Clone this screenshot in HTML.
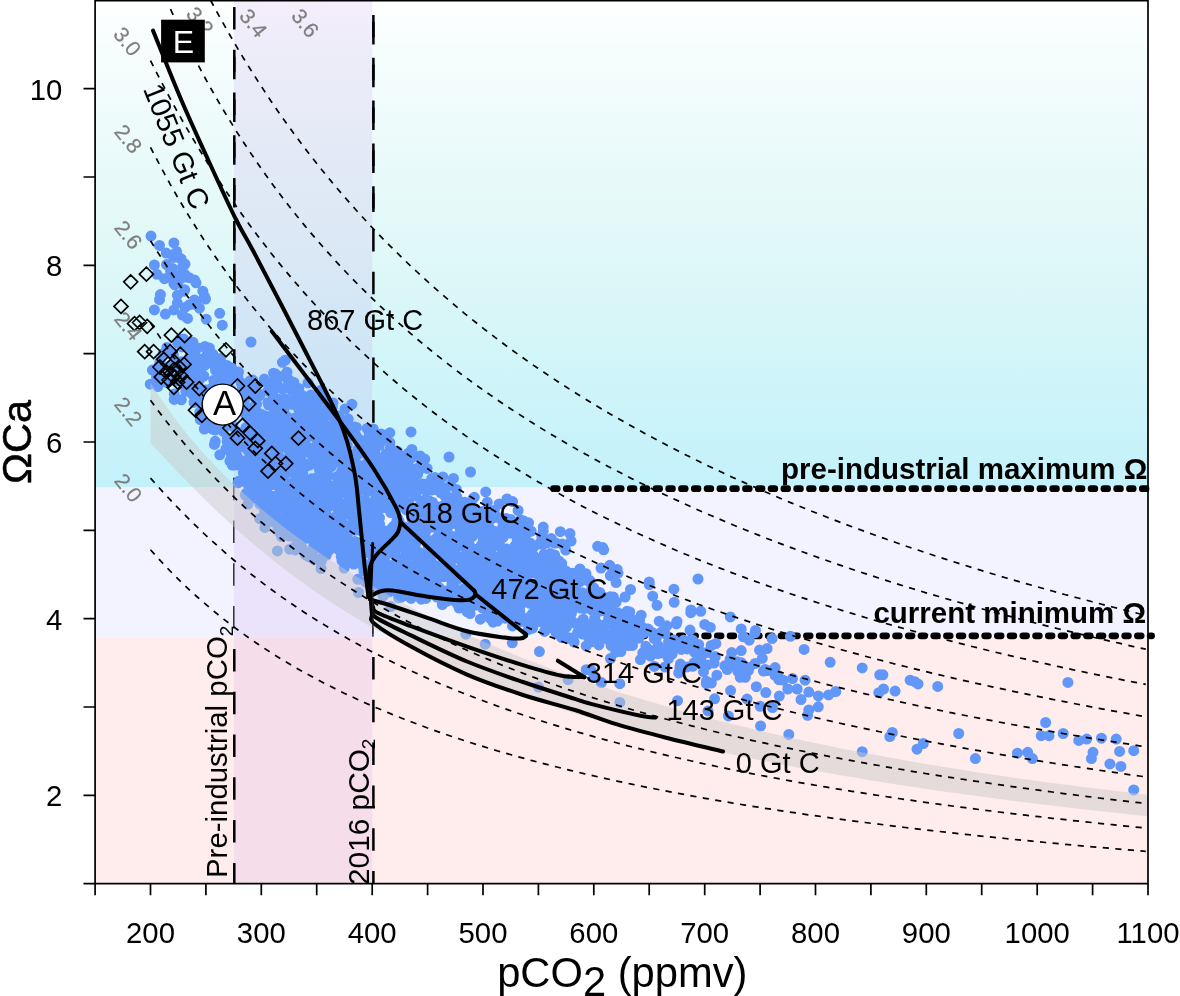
<!DOCTYPE html>
<html lang="en"><head><meta charset="utf-8"><title>ΩCa vs pCO2</title><style>html,body{margin:0;padding:0;background:#fff}svg{display:block}</style></head><body>
<svg width="1180" height="996" viewBox="0 0 1180 996" font-family="'Liberation Sans', Arial, Helvetica, sans-serif">
<defs><linearGradient id="g" x1="0" y1="0" x2="0" y2="1"><stop offset="0" stop-color="#ffffff"/><stop offset="0.1" stop-color="#f7fdfd"/><stop offset="0.25" stop-color="#eefbfb"/><stop offset="0.5" stop-color="#e1f8f8"/><stop offset="0.75" stop-color="#d1f5f9"/><stop offset="1" stop-color="#c3f1fb"/></linearGradient><clipPath id="c"><rect x="95.1" y="0" width="1052.9" height="883.7"/></clipPath></defs>
<rect width="1180" height="996" fill="#fff"/>
<rect x="95.1" y="0" width="1052.9" height="487.5" fill="url(#g)"/>
<rect x="95.1" y="487.5" width="1052.9" height="150.0" fill="#f3f3ff"/>
<rect x="95.1" y="637.5" width="1052.9" height="246.20000000000005" fill="#ffecec"/>
<rect x="234" y="0" width="138.2" height="883.7" fill="#bc8fe5" fill-opacity="0.15"/>
<g stroke="#000" stroke-width="6.8" stroke-linecap="round" stroke-dasharray="3.7 9.1" fill="none">
<path d="M553.5 488.7H1146.5"/><path d="M615.5 635.8H1151.6" stroke-dasharray="3.7 9.03"/></g>
<clipPath id="co"><rect x="0" y="0" width="1180" height="487.5"/><rect x="0" y="637.5" width="1180" height="246.20000000000005"/></clipPath><clipPath id="ci"><rect x="0" y="487.5" width="1180" height="150.0"/></clipPath>
<g stroke="#000" stroke-width="2.5" fill="none" clip-path="url(#co)"><path d="M234.3 6.9V884" stroke-dasharray="22.5 20.3"/><path d="M234.3 56.7V440" stroke-dasharray="22.5 20.3"/><path d="M373.4 15V884" stroke-dasharray="22.5 20.3"/><path d="M373.4 22V212" stroke-dasharray="22.5 20.3"/></g>
<g stroke="#222" stroke-width="1.4" fill="none" clip-path="url(#ci)" transform="translate(-0.5 0)"><path d="M234.3 6.9V884" stroke-dasharray="22.5 20.3"/><path d="M234.3 56.7V440" stroke-dasharray="22.5 20.3"/><path d="M373.4 15V884" stroke-dasharray="22.5 20.3"/><path d="M373.4 22V212" stroke-dasharray="22.5 20.3"/></g>
<path d="M446.4 535.4h.01M629.8 612h.01M526.5 563.2h.01M288 467.6h.01M314.4 559.9h.01M602.2 635.3h.01M557.8 562.9h.01M540.6 587.7h.01M378.3 493.4h.01M315.5 545.5h.01M306.6 398.5h.01M298.2 467.3h.01M369.4 435.1h.01M392.9 582.6h.01M413.3 525.7h.01M537.6 559.7h.01M444.9 565h.01M284.6 375.4h.01M264 424.9h.01M440.2 527h.01M194.3 397.1h.01M397.1 495.4h.01M377.7 518.1h.01M448.4 510.2h.01M396.8 557.6h.01M295.7 448.9h.01M276.5 383.3h.01M480.6 531.7h.01M279.5 435.6h.01M340.4 514.9h.01M160 361.6h.01M261.6 439.1h.01M302.7 473.3h.01M609.5 623.4h.01M395 554.7h.01M577.4 581.3h.01M453.7 499h.01M506.7 573.5h.01M229.8 379h.01M408 568.6h.01M394.2 574.7h.01M599.9 592.6h.01M337.2 495.2h.01M210.5 427.9h.01M347.3 459.7h.01M322.8 557.5h.01M259.7 518.7h.01M554.2 598.9h.01M344.2 432.2h.01M429.5 489.1h.01M436.6 580h.01M452.8 546.7h.01M472.5 536.4h.01M260 496.9h.01M367.6 505.3h.01M292.9 536.2h.01M353 487.1h.01M232.8 410.3h.01M284.5 504.3h.01M470 555.4h.01M314.5 500.4h.01M602.8 610.4h.01M465.1 517.1h.01M702.2 664.9h.01M638.9 638.2h.01M420.4 505.5h.01M257.6 460.7h.01M276.5 417.7h.01M674.8 644.7h.01M412.8 547.7h.01M272.1 382.5h.01M613.7 633.2h.01M420.4 590.5h.01M343 560.8h.01M356.3 512.2h.01M292.9 482.7h.01M605 598.8h.01M378.2 503.6h.01M410.8 582.9h.01M322.5 546.5h.01M512.1 589.8h.01M185.6 387.5h.01M341.4 454.2h.01M190 356.2h.01M247 472.5h.01M462.8 518.4h.01M362.9 566.3h.01M400.8 500.3h.01M330.7 540h.01M429.7 501.1h.01M476.2 590.1h.01M335 444.8h.01M398.8 486.5h.01M520.1 572.2h.01M646.5 648.7h.01M260.1 394.6h.01M162.5 366.9h.01M513 595.1h.01M550.1 618.5h.01M253.7 429.7h.01M359.3 470.8h.01M553.5 620.3h.01M448 570.2h.01M537.8 565.1h.01M498.3 608.3h.01M288.4 449.7h.01M278.7 399.2h.01M337.9 417.4h.01M271.7 514.6h.01M331.4 531.7h.01M422 522.3h.01M329.2 550h.01M304.1 421.5h.01M714 663h.01M369.2 485.1h.01M399.7 564.5h.01M629 642.5h.01M507.3 616.1h.01M425.3 536.6h.01M362.3 545h.01M356.6 497.4h.01M216.4 393h.01M363.6 476.8h.01M399 521.2h.01M296.9 530.5h.01M546.9 615.8h.01M472.5 554.4h.01M493.7 607.2h.01M448.6 597.9h.01M748.4 670.5h.01M326.4 472h.01M351.4 493.3h.01M280.3 530.1h.01M204.9 403.1h.01M283.8 440.6h.01M571.8 621h.01M241.5 410.9h.01M436 514.8h.01M382.8 530.3h.01M431.7 579.6h.01M463.6 509.9h.01M316.8 477.6h.01M730.1 659.2h.01M447.9 496.8h.01M451.4 509.6h.01M273.4 462.9h.01M212.2 356.3h.01M356.5 436.3h.01M519.4 603.8h.01M553.4 565.4h.01M500.4 531.9h.01M241.9 393.6h.01M544.1 614.8h.01M400.6 535.6h.01M656.1 638.4h.01M190 356.4h.01M180.9 363.8h.01M297.5 443.4h.01M296 517.9h.01M274.7 471.4h.01M429.7 502h.01M266.4 426.1h.01M473.2 580.1h.01M318.2 426.7h.01M406.9 563.4h.01M550.8 604.4h.01M463 562.3h.01M439.4 587.8h.01M276.1 523.2h.01M422.4 574.2h.01M543.8 590.9h.01M583.3 619.2h.01M204.9 346.5h.01M328.7 549.9h.01M321 484.6h.01M241.7 393.4h.01M447.1 549.7h.01M319.4 442.4h.01M591.4 628.7h.01M250.1 380.8h.01M521.1 619.8h.01M612.1 643.3h.01M278.3 386.4h.01M422.1 538.4h.01M453.2 587.2h.01M232.5 455.2h.01M464.6 524.4h.01M449.8 538h.01M559.7 613.1h.01M545.1 608.3h.01M324.4 485.1h.01M496.3 557h.01M624.4 643.5h.01M264.5 513.9h.01M186.9 385.6h.01M459.3 539.3h.01M284.4 433.6h.01M417.7 589.3h.01M701.9 652.4h.01M344.1 470.4h.01M297.5 537.1h.01M373.9 431.9h.01M462.6 560.5h.01M344.6 504.1h.01M252.3 412.5h.01M465.2 520.6h.01M564.5 606h.01M343.2 460.9h.01M341.2 436.7h.01M407.3 567h.01M284.5 465.2h.01M295.6 396.3h.01M325.4 446.4h.01M374.2 587.7h.01M224.1 423.6h.01M424.5 522.8h.01M314.3 557.5h.01M518.9 548.2h.01M251 393.3h.01M252 411.1h.01M642.4 627.3h.01M303.3 420.9h.01M316.7 410.6h.01M566.2 582.2h.01M443.8 576.7h.01M274.6 456.5h.01M365.5 490.8h.01M613.6 636.9h.01M342.6 457.1h.01M490.4 618.5h.01M232.8 374.7h.01M499 574.5h.01M527 558.9h.01M561 577.9h.01M471.3 556.8h.01M340.8 529.4h.01M213.7 380.2h.01M398.7 488.6h.01M515.6 562.6h.01M276 450.2h.01M302.2 421.3h.01M405.9 593h.01M510.4 607.7h.01M629 622h.01M273.5 516.8h.01M542.3 584.9h.01M456.1 570.3h.01M495.7 591.3h.01M574.1 642.2h.01M527.4 546.8h.01M350.2 480.2h.01M454.4 499.6h.01M273.6 502.3h.01M516.7 558.6h.01M515.7 582.8h.01M495.9 558.6h.01M369.3 490.2h.01M343.7 537.3h.01M359.7 563.2h.01M192.4 356.1h.01M408.6 502.4h.01M347.3 445.2h.01M411 553.7h.01M496.1 606.2h.01M345 458.2h.01M564.6 602.3h.01M347.2 552.3h.01M254.2 430.6h.01M258.8 446.5h.01M491.4 590.3h.01M560.7 635.8h.01M247.2 390.6h.01M778 675.5h.01M243.8 474.2h.01M270.7 440.4h.01M422.7 510.5h.01M369.9 469.1h.01M511.5 554.3h.01M275.8 522.5h.01M285.2 404.2h.01M522.5 584.1h.01M215.8 383.9h.01M380.5 534.6h.01M191.8 362.6h.01M319.4 461.5h.01M318.9 497.4h.01M495.1 558.3h.01M373.3 559.8h.01M619.2 626h.01M295.3 549.9h.01M349.8 498.1h.01M288.6 386.1h.01M248 504.1h.01M192.2 363.2h.01M392.4 489.6h.01M247.1 483.4h.01M270.5 467.4h.01M384.8 493.7h.01M273.3 427.5h.01M469 576.1h.01M302.1 395.4h.01M402.1 470.5h.01M308.2 422.1h.01M397.6 518.1h.01M448.1 526.6h.01M406 553.9h.01M271.6 484.9h.01M253.5 427.5h.01M241.9 434.6h.01M696.7 654.6h.01M289.8 497.8h.01M745.4 677.3h.01M282 402.7h.01M393.7 578.2h.01M390 508.9h.01M320 439.6h.01M434.2 553.9h.01M291.9 404.3h.01M377.2 529.9h.01M610.1 615.1h.01M517.6 599.9h.01M563.4 634.6h.01M517.7 619.6h.01M475.1 579.4h.01M503.5 521.7h.01M315 426.8h.01M267 440.2h.01M515 546h.01M266.3 436.7h.01M432.6 573.5h.01M325.2 460.6h.01M688.7 645.5h.01M261.9 429.6h.01M396.9 520.5h.01M229.9 461h.01M737.3 661.7h.01M422.9 486.5h.01M545.2 563.4h.01M307.8 508.9h.01M543.9 606h.01M486.2 565.3h.01M455.7 541.5h.01M365 464.8h.01M357.9 476.8h.01M480.6 603.3h.01M567.9 588.5h.01M327.3 539.3h.01M468.9 576.8h.01M282.5 438.5h.01M412.5 544.3h.01M522.5 568h.01M214.4 444.4h.01M499.3 575.3h.01M724.8 665.8h.01M378.6 491.7h.01M355.6 461.7h.01M495.4 531.4h.01M400.6 475.4h.01M500.9 576.6h.01M225.9 449h.01M417.3 536.4h.01M415.3 580.1h.01M197.2 391.2h.01M372.4 515.9h.01M449.3 591.9h.01M412.1 551.7h.01M219.7 380.4h.01M431 515.9h.01M286.9 416.7h.01M277.7 485.5h.01M607.7 607h.01M278.5 508.6h.01M373 504.7h.01M511.5 610.1h.01M488.6 567.4h.01M413.3 531.4h.01M547.6 598.2h.01M377.5 574h.01M444.1 490.4h.01M556.1 632.9h.01M454.7 557.6h.01M415.4 537.4h.01M350.6 472.8h.01M344.6 471.9h.01M377.8 487h.01M392.6 540h.01M561.8 563.6h.01M344.8 528.2h.01M575.5 604.9h.01M532.6 569h.01M370.3 529.8h.01M491.5 518.2h.01M193.3 368.4h.01M348.2 512h.01M589 599.1h.01M415.2 565.1h.01M466.4 518.8h.01M473.1 511.3h.01M426.6 577.9h.01M360 507.8h.01M273.2 497.6h.01M311.7 552.4h.01M311.8 454.8h.01M363.9 570.8h.01M333.9 432.7h.01M370.3 468.1h.01M341.2 556.6h.01M425.6 489.1h.01M707.1 665.1h.01M619.6 615h.01M343.3 465.9h.01M302.5 424.2h.01M614.1 632h.01M388.6 586.1h.01M477.2 583.5h.01M219.2 426.4h.01M595.1 595.7h.01M319.1 462h.01M388.9 479.1h.01M278.6 518.8h.01M359.9 440.2h.01M562.7 620h.01M562.4 601.8h.01M380.6 532.1h.01M374.5 519h.01M341.8 434.2h.01M410 475.5h.01M279.7 466.9h.01M320.5 544.8h.01M488.2 558.9h.01M523.3 578.7h.01M208.9 400.9h.01M501.9 584.5h.01M555 605.2h.01M369.5 451.5h.01M212.6 429.1h.01M475.8 531.1h.01M295.2 465.7h.01M455.5 515.4h.01M343.1 439.5h.01M452.4 523.3h.01M299.4 501.5h.01M381.7 541.3h.01M401.1 532.6h.01M280.4 410.9h.01M310.4 530.3h.01M316.6 402.9h.01M298.7 419.3h.01M215.7 370.7h.01M360.9 445.1h.01M524.1 592.3h.01M489.7 513.1h.01M277.7 496.1h.01M253.8 435.8h.01M522 619.5h.01M386.3 554.6h.01M667.5 648.4h.01M462.1 523.6h.01M444.3 596.4h.01M521.6 603.9h.01M511.5 577.6h.01M330.6 431.6h.01M299 402.1h.01M366.6 546.5h.01M386.8 588.5h.01M256 452.2h.01M368 550.9h.01M453.7 555.3h.01M253.2 386.4h.01M254.3 438.2h.01M269.4 458.7h.01M308.3 509.4h.01M186.1 387.4h.01M273.3 396.7h.01M266 416.3h.01M380.9 543.7h.01M175.5 378.2h.01M374.5 505.2h.01M265.1 513.9h.01M303.5 483.8h.01M537.4 620.5h.01M273.4 382.9h.01M442.5 555.9h.01M354.5 427h.01M358.8 470.8h.01M554.6 611h.01M264.3 508.8h.01M668.5 641.8h.01M625.1 621.2h.01M468.3 521.2h.01M204.1 364.3h.01M465.7 575.9h.01M434.4 481.1h.01M524.4 552.3h.01M284.1 408.4h.01M616.2 647.9h.01M242.6 433.2h.01M191.7 393.5h.01M564.8 626.4h.01M439.9 554.7h.01M467 561.1h.01M473.5 586.6h.01M420.6 524.4h.01M714.7 656.8h.01M327.6 408.3h.01M396.3 479.8h.01M497.4 621.1h.01M481.6 577.5h.01M360.2 440h.01M581.1 572.8h.01M514.4 621.6h.01M327.9 485.4h.01M221.7 400.6h.01M251.5 426.7h.01M273.5 373.2h.01M315.8 404.5h.01M370.4 506.5h.01M306.6 451.9h.01M631.6 619h.01M474.5 533.6h.01M582.8 634.1h.01M353.3 561.3h.01M159.1 365.5h.01M533.8 586.6h.01M295 417.9h.01M256.3 479.2h.01M477.6 516.2h.01M283.6 435.4h.01M302.7 539.7h.01M692.8 666.3h.01M303.1 406.2h.01M486 549.8h.01M553.3 589.8h.01M244.3 402.1h.01M397.6 575.4h.01M193.9 377.9h.01M411.8 477.1h.01M577 602.7h.01M305.1 443.9h.01M519.8 598.2h.01M438.1 565.9h.01M319.1 419.1h.01M448.3 520h.01M373.2 571.2h.01M591 641.9h.01M311.8 478.8h.01M515.7 567.9h.01M451.6 535.9h.01M506 529.8h.01M343.7 433.7h.01M497.8 566.4h.01M483.9 532.9h.01M491.9 518.5h.01M281 470.7h.01M500.9 562.3h.01M306.7 401.7h.01M378.9 557.9h.01M370.6 586.3h.01M310 409.9h.01M316.4 425.3h.01M286 508.2h.01M304 532.7h.01M269.2 425h.01M213 361.1h.01M377.5 565.1h.01M284.3 446h.01M505.1 618.2h.01M304.6 527.8h.01M421.5 581.1h.01M393.8 489.1h.01M220.3 379h.01M248 478.2h.01M380.8 556.9h.01M545.9 581.3h.01M215.1 430h.01M431.8 575h.01M593.8 587.8h.01M595.6 621.7h.01M163.4 375.2h.01M399.9 502.8h.01M340.2 452.2h.01M517.1 573.2h.01M301.8 547.4h.01M551.6 570.7h.01M379 439.6h.01M372.6 435.4h.01M321.7 532.7h.01M349.1 435.5h.01M261.1 444.5h.01M224.3 389.1h.01M419.5 552.6h.01M424.7 514.2h.01M457.4 604h.01M323.1 436.6h.01M421 516h.01M512.6 565.7h.01M429.2 588h.01M544.6 631.4h.01M412 476.1h.01M278.6 426.4h.01M426.2 503.8h.01M387.4 574.4h.01M266.3 500.2h.01M443.5 505.8h.01M554.7 555.8h.01M252.9 447.8h.01M409.6 483.6h.01M502.4 584.8h.01M353.2 505.6h.01M303.6 531.5h.01M341.4 450.3h.01M408.3 459.5h.01M415.7 494.2h.01M238.6 404.4h.01M555.3 557.6h.01M235.4 445.3h.01M296.4 488.9h.01M269.4 513.4h.01M579.1 602.2h.01M648.1 628.9h.01M200.5 371.6h.01M326.3 555.1h.01M276.6 382.5h.01M379 536.7h.01M665.1 667h.01M217.3 425.4h.01M268.5 511h.01M385.9 489.3h.01M400.9 579.4h.01M508.8 551.4h.01M366.6 492h.01M255.7 409.9h.01M334.3 524h.01M767.5 670.6h.01M548.4 574.2h.01M318.4 413.4h.01M530.1 573.5h.01M599.8 611.2h.01M264.9 480.6h.01M373.6 508.8h.01M464.9 606.4h.01M394.3 575.6h.01M266.1 522.7h.01M254.8 493.4h.01M308.8 511.3h.01M285 440.5h.01M250.5 462.2h.01M377.1 545.3h.01M335.4 529.3h.01M428.1 545.9h.01M307.5 522.2h.01M192.9 342.2h.01M325.8 456.8h.01M514.2 565.9h.01M298.6 423.3h.01M353.8 564h.01M514.1 575.6h.01M354.6 475.1h.01M503.6 607h.01M297.6 394h.01M366.7 440.6h.01M435.4 568h.01M687 666.9h.01M257.8 491.9h.01M491.2 535.6h.01M381.3 558.3h.01M251.3 488.2h.01M482.5 608h.01M249.9 460.3h.01M236.4 411.1h.01M230.5 448.5h.01M326 447.6h.01M192.2 356.8h.01M660 633.1h.01M439.8 491.5h.01M419.9 584.2h.01M374.8 451.8h.01M417.8 555.8h.01M504.3 581.1h.01M473.6 577.8h.01M262.5 453.1h.01M551.7 572.2h.01M356.3 495.1h.01M531.4 556.4h.01M302.2 407.6h.01M372.5 552.7h.01M703.5 671.7h.01M341.7 504.1h.01M694.4 652.1h.01M354.3 549.7h.01M515.1 532.5h.01M379.6 565.6h.01M370.6 512.9h.01M346.7 513h.01M255.1 415.3h.01M211.7 388.6h.01M513.6 579.7h.01M418.1 470.3h.01M470.1 613.6h.01M544.3 568h.01M289.7 549.2h.01M290.9 435.9h.01M306.4 402.3h.01M315.8 449h.01M517.4 541.3h.01M342.2 446.5h.01M322.9 539h.01M451.9 503.8h.01M274.4 412.5h.01M483.2 540.7h.01M515 557.7h.01M313.1 550.7h.01M451.8 576.5h.01M193 364.2h.01M353.7 523.3h.01M424 568.4h.01M297.7 448.8h.01M332.3 407h.01M438.8 536.3h.01M429.5 593.3h.01M261.5 462.9h.01M488.2 595h.01M223.2 431.3h.01M280.1 525h.01M297.8 531.8h.01M279.4 474.7h.01M309.5 465.1h.01M436.7 571.2h.01M199.2 359.3h.01M399.7 491.7h.01M434.8 477.6h.01M486 544.9h.01M327.6 464h.01M324.7 471.4h.01M193.9 386.6h.01M280.2 476.3h.01M190.4 374.1h.01M365.6 543.4h.01M281 529.1h.01M489.2 527.5h.01M168.7 367.6h.01M294.8 515.4h.01M451.8 523.6h.01M230.8 401.5h.01M321 503.9h.01M285.9 417.4h.01M185.8 391.2h.01M248.6 451.2h.01M234.9 393.6h.01M637.3 629h.01M327.5 474h.01M326.5 449h.01M539.8 577.9h.01M410.6 553.3h.01M442.8 572.8h.01M234.9 412.5h.01M300.2 421.4h.01M426.6 529.9h.01M554.8 612.1h.01M454.2 587.3h.01M398.7 559.8h.01M175.6 381.2h.01M621.6 639.5h.01M215.3 384.6h.01M250 499.9h.01M481.1 518.2h.01M551.2 627.5h.01M533.5 555.5h.01M372.3 450.9h.01M270.7 496h.01M194 402.4h.01M581 601.9h.01M294.5 387h.01M594.6 634.7h.01M318.5 492.4h.01M393.2 470.9h.01M368.5 564.6h.01M279.1 420h.01M491.3 531.2h.01M392.1 590.5h.01M320.5 446.6h.01M307.3 488.1h.01M692.7 644.6h.01M392.7 455.3h.01M201.7 401.3h.01M424.6 571.3h.01M207.5 351.1h.01M392.7 461.4h.01M365.7 582.1h.01M248 459.7h.01M260.4 447.8h.01M355 519.7h.01M567.1 619h.01M445.7 488.8h.01M500.4 585.4h.01M423.2 580.3h.01M282.8 388.9h.01M555.3 587.8h.01M174.3 394h.01M483.9 583h.01M277.2 465.3h.01M379.6 524.2h.01M407.1 538h.01M363.2 524.3h.01M464.1 542.4h.01M407.6 573.5h.01M345 436.2h.01M392.6 527.5h.01M312.9 488.1h.01M462.3 589.9h.01M269.2 427.5h.01M642.8 652.8h.01M377.3 510.1h.01M588.4 637.3h.01M310.7 537.4h.01M544.8 609.2h.01M309.8 424.9h.01M495.2 544.4h.01M326.9 441.3h.01M435.4 539.1h.01M207.3 425.2h.01M547.8 563.5h.01M408.3 541.6h.01M344 550.9h.01M333 486.2h.01M299.5 394h.01M445.4 530.3h.01M731.7 652.6h.01M765.1 669.5h.01M619.8 644.3h.01M547.3 617.4h.01M271.1 476h.01M280.2 400.6h.01M597.6 638.6h.01M606.8 624.4h.01M444.8 536.1h.01M399.8 463.2h.01M279.4 448.3h.01M399 568.4h.01M311 395.1h.01M248.5 431.9h.01M249.6 417.1h.01M256 400.5h.01M173.4 354.9h.01M301.3 411.2h.01M252.6 495h.01M275.1 502.5h.01M426.5 554.2h.01M360.7 483.7h.01M363.3 508.2h.01M281.3 499.6h.01M466.3 595.6h.01M310.6 463.4h.01M351.7 550.5h.01M376.6 539.3h.01M639.6 620.1h.01M295.3 391.7h.01M494.5 514.6h.01M317.8 451.2h.01M349.8 562.6h.01M393.2 498.1h.01M606.1 634.2h.01M231.5 456.1h.01M253.7 391.9h.01M314.7 450.4h.01M264.5 480.3h.01M283.9 411.5h.01M226.9 407.5h.01M379.9 574.7h.01M430.7 561.9h.01M321.1 502h.01M550.4 553.6h.01M545.8 622.6h.01M417 559.3h.01M254.1 387.6h.01M408.4 465.3h.01M448.6 501.5h.01M348.2 419.1h.01M395.5 493.2h.01M242.4 386.7h.01M417.7 566.9h.01M520.9 621.4h.01M501.1 536.6h.01M495.2 542.6h.01M361.2 543.3h.01M357.8 579.3h.01M528.8 566.8h.01M453.6 518.5h.01M494.6 567.3h.01M397.7 539.7h.01M601.8 595.9h.01M378.6 491.1h.01M377.1 577.1h.01M308.8 397.4h.01M320.3 538.7h.01M482.3 577.2h.01M355.7 541.7h.01M189.8 348.6h.01M436.6 520.3h.01M219.5 418.8h.01M389.9 479.6h.01M204.1 416.5h.01M411.3 531.6h.01M274 425.9h.01M339.8 479h.01M316.1 517.9h.01M435.3 585.7h.01M558.6 577.9h.01M688.5 641h.01M325 460.8h.01M420.4 584.7h.01M341.4 521.2h.01M244.9 464.6h.01M460.1 533.2h.01M312.2 433.6h.01M528.1 623.4h.01M310.5 413h.01M224.8 426.4h.01M511.3 614.1h.01M371 509.7h.01M258.5 449.1h.01M396.5 528.2h.01M313.3 404h.01M411.5 469.4h.01M507.8 559.7h.01M430.6 520.8h.01M375.1 484.8h.01M522.7 561.3h.01M233.1 426.5h.01M425.9 598.4h.01M618.7 633.9h.01M533.9 561.9h.01M597.8 602.5h.01M209.3 351.9h.01M492.9 557.4h.01M278.2 417.9h.01M302.1 484.2h.01M323.5 496.1h.01M430.1 489.3h.01M447.7 511.3h.01M680.4 664.1h.01M172.8 353.1h.01M276.9 383h.01M337.5 541.2h.01M555.4 609.4h.01M411.8 518.8h.01M395.9 526.6h.01M517.1 540.4h.01M461.4 599.2h.01M310.7 401.8h.01M376.1 506.8h.01M433.3 515.6h.01M206.7 357.5h.01M367.5 516h.01M346.2 438.9h.01M426.1 596h.01M428.2 490.3h.01M328.5 427.4h.01M355.2 427.2h.01M440.7 492.9h.01M616.4 634.6h.01M488 589h.01M379.5 517.8h.01M553 574.2h.01M385.2 562.1h.01M308 538.2h.01M564.4 622.3h.01M313.4 526.8h.01M577.7 581.3h.01M394.7 549.3h.01M533.3 568.3h.01M214.7 395.9h.01M315.5 488h.01M249.4 443.8h.01M615.6 618.4h.01M383 469.9h.01M248 474.1h.01M390.5 532.3h.01M295.4 492.5h.01M355.1 496.9h.01M453.9 558.6h.01M543.3 622.8h.01M264.3 448.7h.01M382 550.9h.01M387.8 568.5h.01M227.2 441.4h.01M395.4 452.9h.01M654.2 638.6h.01M351.6 433.9h.01M414.3 510.7h.01M321.8 509.1h.01M673.6 648.6h.01M226 366.4h.01M281.6 536.6h.01M491 604.9h.01M311.9 528.1h.01M633.7 627.2h.01M625.3 617h.01M298.7 409.3h.01M152.4 370.1h.01M347.3 533.5h.01M519.2 589.5h.01M210.8 421.6h.01M486.1 559.4h.01M658.2 645.7h.01M741.4 662.8h.01M493.1 622.2h.01M591.6 609.8h.01M573 582.2h.01M336.1 503.9h.01M234.1 414.3h.01M499.1 599.6h.01M253.8 411.3h.01M346 481.4h.01M416 508.5h.01M399.9 580.5h.01M308.6 554.8h.01M650.6 650.3h.01M338.2 531.8h.01M248.8 417.6h.01M274.1 406h.01M620.9 651.6h.01M433.3 527h.01M470.1 595.5h.01M502.1 557.2h.01M199.4 389.2h.01M391 462.4h.01M204.6 365.4h.01M392.8 528h.01M503.8 559h.01M462.6 543.5h.01M442.2 517.8h.01M630.2 632.1h.01M404.7 504.9h.01M692.8 640.3h.01M268.6 405h.01M355.9 491.8h.01M410.4 551.2h.01M494.5 574.8h.01M331.9 545.3h.01M220.4 427.6h.01M488.6 554.4h.01M525.9 599.9h.01M270.4 501.7h.01M375.2 537.8h.01M400.3 503.4h.01M441.1 489.7h.01M478.2 557.3h.01M349.1 481.5h.01M492.6 534.8h.01M377.9 573h.01M357.1 558h.01M338.9 549.9h.01M388.4 546.1h.01M307.6 512.8h.01M293.8 460h.01M259 395.9h.01M367.6 455.8h.01M311.9 418.7h.01M569.3 637.7h.01M578.1 624.2h.01M330.6 547.2h.01M443.4 517.4h.01M336.4 493.8h.01M413.8 591.3h.01M368.9 452.2h.01M459 504.9h.01M254.5 494.6h.01M466.9 605.8h.01M539.8 597.5h.01M451.4 552.8h.01M598.9 644.9h.01M324 457.9h.01M489 531h.01M301.5 419.2h.01M394.6 492.2h.01M475.1 605.2h.01M279.7 524.7h.01M536.4 622.1h.01M466.9 598h.01M322.2 509.1h.01M463 530.9h.01M465.3 555.2h.01M423.3 591.1h.01M442.5 563.4h.01M370.2 550.4h.01M288 439.8h.01M498.3 568.7h.01M376.8 446h.01M338.3 512.1h.01M408.6 570.7h.01M445.2 569.4h.01M618.1 612.8h.01M209.2 405.3h.01M524.1 579.2h.01M300.5 509.5h.01M483.3 512.4h.01M322.5 421.1h.01M386.4 535.3h.01M403.6 595.8h.01M481.9 522.7h.01M452.7 542.3h.01M473.4 560.2h.01M346 533.1h.01M472.9 526.8h.01M331.2 414.9h.01M437.8 574.7h.01M375 454h.01M417.3 579.4h.01M390.6 547.1h.01M286.2 387.8h.01M346.6 489.5h.01M219.5 403.3h.01M462.4 508.3h.01M334.7 447.8h.01M237.5 464.8h.01M444 526.2h.01M249 449.1h.01M622.8 637.4h.01M246.8 430h.01M337.4 515.5h.01M388.9 490.9h.01M244.4 409.7h.01M321.3 413.5h.01M305.5 414.4h.01M491.7 556.8h.01M337.8 516.6h.01M536.3 570.4h.01M424.9 578.3h.01M364.7 527.7h.01M310.1 496.4h.01M558.1 612.7h.01M509.3 566.8h.01M252.4 466.2h.01M311.6 516.8h.01M556.5 603.5h.01M439.7 483.6h.01M600.3 604.2h.01M506.1 518.4h.01M456.2 496.1h.01M286.6 447.6h.01M340.7 490.3h.01M445.6 591.4h.01M672.5 645.1h.01M315.1 479.1h.01M350.2 560.7h.01M182.9 364.8h.01M483 552.2h.01M368.9 457.2h.01M541.1 609.5h.01M290.9 493.7h.01M470.7 528.5h.01M376.9 496.5h.01M275.1 373.7h.01M353.2 517.9h.01M508.5 569.4h.01M275.3 471.7h.01M376.3 536.5h.01M291.2 464.1h.01M543.1 557.8h.01M554.9 555.9h.01M571.5 610.2h.01M457.6 558.3h.01M274.5 502.2h.01M559 584h.01M499.4 592h.01M509.6 582.8h.01M483.4 537.7h.01M564.2 626.6h.01M313.6 478.9h.01M470.4 570.3h.01M398.1 482h.01M328.4 491.7h.01M324.3 518.1h.01M262 425.7h.01M387.7 543.1h.01M340.1 456h.01M581.3 595.9h.01M475.1 585.3h.01M474.4 519.4h.01M394.3 474.9h.01M230.4 416.1h.01M349.3 494.7h.01M711.2 645.5h.01M226.6 383.2h.01M515.7 551.9h.01M594 621.5h.01M394.7 589.9h.01M541 568.8h.01M367.9 552.8h.01M334.2 537.1h.01M393.4 532.9h.01M277.4 482.6h.01M317.1 536.4h.01M316.3 524.3h.01M327.4 452h.01M289.2 529.1h.01M254.5 492.9h.01M738 671.7h.01M582.7 628.2h.01M457.4 579.5h.01M362.8 529.6h.01M278.3 461.7h.01M238.1 405h.01M236.7 447.5h.01M332.6 448.6h.01M354.8 525h.01M406 505.8h.01M495.7 589.7h.01M258 427.1h.01M413.3 552.3h.01M263.6 434h.01M196.9 365.7h.01M328.4 542.7h.01M275.5 515.4h.01M235.7 438.3h.01M460 528.4h.01M375.7 438.6h.01M492.7 542.4h.01M298.9 543h.01M529.6 565.9h.01M386.5 552.1h.01M405.7 580.5h.01M374.1 583h.01M472.2 598h.01M541.2 564.7h.01M216.7 424.3h.01M389 584.4h.01M291.1 444.1h.01M277.5 445.8h.01M295.9 454.7h.01M727.2 669.6h.01M508.4 571.2h.01M484.1 516.8h.01M320.1 449.8h.01M348.7 460.7h.01M367.7 537h.01M312 510.7h.01M360.3 514.7h.01M523.7 545.7h.01M305.9 410.2h.01M382.7 575.2h.01M472.3 510h.01M456.8 496.9h.01M497.8 576.5h.01M317.7 448.1h.01M307.8 493.7h.01M514.5 595h.01M475.9 527h.01M192.2 351.9h.01M544.8 617.8h.01M431.8 490h.01M332.5 540h.01M334.9 421.3h.01M450.5 553.2h.01M592.7 626h.01M329.5 502.2h.01M275.9 473.4h.01M254 406.7h.01M580.8 624.4h.01M446.1 591h.01M339 489.6h.01M539.7 599.6h.01M464.6 502.2h.01M215.2 441.3h.01M352.6 522.1h.01M452.6 600.2h.01M478.3 521.2h.01M372 581.2h.01M377.8 459.5h.01M493.8 539h.01M405.4 489.4h.01M223.6 386.2h.01M291.9 502.3h.01M212.9 387.1h.01M275.9 435.3h.01M279.3 431.4h.01M357.8 449.4h.01M322.3 457h.01M337.7 429.7h.01M554.6 555h.01M182 346.9h.01M548.2 558.7h.01M405 470.7h.01M367 550.2h.01M302.6 471.9h.01M408.5 491.6h.01M286.7 442.7h.01M559.8 574.5h.01M322.4 549.1h.01M185 384.9h.01M313.9 511.9h.01M462.4 594.3h.01M541.5 602.3h.01M591.1 631.6h.01M386.7 577h.01M375.7 464.7h.01M301.4 538.4h.01M383.5 566.1h.01M327.4 537.2h.01M521.3 592.9h.01M565.4 589.4h.01M255.7 467.1h.01M265.7 514.2h.01M345.8 451.3h.01M376.5 555.1h.01M740.2 677.3h.01M500.3 582.2h.01M472.9 534.7h.01M341.6 471.7h.01M157.8 386.6h.01M566.3 574.6h.01M305.7 496.2h.01M222.7 408.3h.01M320.1 537.8h.01M322.9 502.1h.01M497.3 539h.01M289.6 421h.01M628.9 645.6h.01M584.1 608.6h.01M448.3 598.7h.01M415.6 543.9h.01M287.1 421.9h.01M517.5 596h.01M396.3 499h.01M264.3 437.3h.01M284.8 423.5h.01M344.1 443.3h.01M325.8 500.7h.01M354.5 543h.01M370.8 584h.01M309.7 411.1h.01M346 527.2h.01M326.3 515.1h.01M343.2 453.6h.01M443.4 564.5h.01M390 477.5h.01M278.4 501.1h.01M539.4 566.6h.01M396.4 455.4h.01M374.6 501.1h.01M491.7 575h.01M512.5 625.9h.01M579 600.6h.01M550.6 561.3h.01M468.6 583.6h.01M495.8 620h.01M262.7 498.2h.01M484.4 547h.01M298.1 502.7h.01M299.3 459.7h.01M245.6 430.6h.01M350.9 546h.01M462.4 556.6h.01M510.2 571.3h.01M526.4 579.3h.01M249.9 394.9h.01M454.3 580h.01M570.4 619.1h.01M194.5 381.4h.01M276.9 495.5h.01M302.8 494.4h.01M376 444h.01M407.1 510.4h.01M330.7 448.8h.01M461.5 545.5h.01M403.9 493.4h.01M477.6 575.7h.01M488.4 527.8h.01M502.9 537.7h.01M496.2 562.6h.01M216.3 406.2h.01M423.6 502.1h.01M304.4 520.6h.01M365.2 541.9h.01M398.2 578h.01M295.8 426.9h.01M301.8 480.1h.01M338.1 527h.01M529.8 603.3h.01M366.5 525.2h.01M196.5 387.2h.01M372.2 543.6h.01M279.8 457.3h.01M312.1 529.8h.01M406.5 590.7h.01M336 497.2h.01M274.3 402.3h.01M359 449.2h.01M342 560.7h.01M266.9 492.8h.01M464.8 521.2h.01M530.5 587.9h.01M516.9 565.7h.01M471.8 600h.01M178.1 377.7h.01M289.5 536.1h.01M397 534.4h.01M486.2 584.8h.01M346.9 486.1h.01M371.1 474.6h.01M572.3 584.6h.01M184.1 378.3h.01M303.1 476h.01M310.7 535.7h.01M288.8 419.6h.01M202.5 399.8h.01M358.4 511.1h.01M458.6 536.7h.01M261.1 459.1h.01M571.5 613.3h.01M278 527.8h.01M487 547.8h.01M264.7 419h.01M611.1 645.7h.01M279.7 376.4h.01M501.2 547.5h.01M298.3 540.5h.01M230.6 441.9h.01M427.8 578.7h.01M382.8 462h.01M530.1 572.6h.01M376.4 476.4h.01M386 453.8h.01M373.1 566.8h.01M354.3 561.6h.01M264.3 422.2h.01M312.7 457.3h.01M301.8 440.3h.01M531.1 594.7h.01M242.4 383.5h.01M281.2 440.8h.01M401.9 594.1h.01M319 540.9h.01M293.1 490.6h.01M341.9 522.4h.01M391.9 565.4h.01M582.1 592.7h.01M363.6 530.8h.01M372 516.2h.01M358.1 454h.01M292.7 524.3h.01M281 486.2h.01M465 539h.01M429.3 581.5h.01M306.7 501h.01M355.7 462.3h.01M432.4 543.7h.01M229.6 451.1h.01M236.3 457.7h.01M349.8 426.1h.01M615.5 636.1h.01M562.4 573.8h.01M290.7 501.5h.01M372 475.1h.01M213 354.3h.01M167 382.5h.01M323.7 519.1h.01M280.4 435.8h.01M390.7 512.6h.01M478.3 596h.01M340.6 455.9h.01M572.9 573.3h.01M540.5 601.5h.01M324.1 434.3h.01M577.5 633h.01M443.8 540.5h.01M333.6 523.1h.01M698.7 644.6h.01M331.9 538.6h.01M596.3 596.5h.01M466.4 525.4h.01M290.3 519.4h.01M419.1 570.8h.01M317.4 487h.01M330 413.2h.01M277.9 402.5h.01M199.8 379.3h.01M330.1 529.1h.01M285.6 474h.01M374.5 492.5h.01M749.3 667.5h.01M312.6 549.4h.01M557.7 616.6h.01M256.6 468.1h.01M430.6 555.2h.01M414.2 518.3h.01M481.4 545.2h.01M316.9 430.1h.01M346 556.5h.01M293.3 530.3h.01M311.4 515.5h.01M270.2 477.1h.01M639.6 632.7h.01M617.7 639.4h.01M336.7 476.8h.01M481.2 517.9h.01M387.2 463.3h.01M307.4 553.6h.01M332.8 518.1h.01M329.7 429h.01M424.4 569.6h.01M313.5 417.7h.01M549 605h.01M242.4 411.2h.01M502.2 554.6h.01M547.4 579.3h.01M569.7 621.4h.01M490.5 542h.01M306.6 427.2h.01M399.9 545.6h.01M284.2 413.7h.01M367.1 511.4h.01M495 515.1h.01M177.6 380.3h.01M295.6 486.4h.01M311.5 422.1h.01M503.9 526.4h.01M326.5 481.2h.01M376.3 522.2h.01M567.6 638.4h.01M335.7 436.6h.01M546.4 575.7h.01M378.6 461h.01M629 621.5h.01M346.1 463.6h.01M511.3 578.8h.01M453.7 594.3h.01M325.9 469.8h.01M404.1 477.4h.01M437.1 540h.01M406.2 509.8h.01M240.6 460.9h.01M195.6 372.3h.01M701.1 657h.01M404 586.1h.01M248.4 434.9h.01M557.3 597.3h.01M364.8 500.5h.01M491.6 599.1h.01M562.1 597.2h.01M406.7 557.7h.01M558.6 618.7h.01M481.6 545h.01M303.6 434.6h.01M532.6 628.2h.01M601.8 606.8h.01M334.8 439.1h.01M356 527.7h.01M326.9 444.4h.01M163.4 353.5h.01M290.2 494.1h.01M326 544.1h.01M520.3 594.6h.01M362.4 516.8h.01M419.7 505.9h.01M308.8 533.8h.01M336.9 419.6h.01M513.2 556.1h.01M379.1 546h.01M432.6 588.7h.01M360.8 530.6h.01M414.8 553.3h.01M302.7 405.2h.01M398.8 589.2h.01M478.1 527h.01M227.1 365.6h.01M390.6 529.6h.01M294.9 514.2h.01M517.3 561.8h.01M449.1 501.4h.01M402.4 456.4h.01M507.4 549.8h.01M657.9 653.5h.01M454.5 553.7h.01M435.3 579.1h.01M347.6 464.6h.01M421.2 599.2h.01M413.9 510.3h.01M640.4 659.6h.01M562 580.6h.01M504.3 601.4h.01M668.5 658.6h.01M214.9 443h.01M522.8 532.5h.01M376.6 543h.01M512.3 610.8h.01M313 448.1h.01M378.1 499.2h.01M560.2 632.6h.01M193.9 381.4h.01M311.2 494h.01M386.5 483.8h.01M303.6 422.3h.01M559.1 561.1h.01M294.6 547.1h.01M413.4 593.1h.01M460.9 544.4h.01M609.2 619.1h.01M608.6 618.4h.01M296.6 395.9h.01M508.9 576.1h.01M451.3 509h.01M346.7 513.9h.01M526.7 549.9h.01M630.2 624.4h.01M382.8 507.8h.01M249.3 459.4h.01M266.4 496.4h.01M519.5 608.6h.01M316.4 438.6h.01M427.4 484.3h.01M389.9 485.7h.01M257.8 466h.01M513.7 585.9h.01M257.5 444.5h.01M300 536.8h.01M543.1 580.6h.01M391.8 547.4h.01M339.6 503.5h.01M369.5 443.6h.01M270.5 416.4h.01M389.5 591.9h.01M264.7 508.3h.01M344.6 542h.01M213.5 404.1h.01M379.3 445.4h.01M459.6 577.9h.01M755.1 663.5h.01M615.7 652.2h.01M450.7 566.5h.01M630.4 638.4h.01M369.2 432.8h.01M541.9 612.5h.01M308.8 416.1h.01M402 487.9h.01M763.4 671.1h.01M433.6 506.6h.01M393.8 459.6h.01M534 590h.01M318.9 421.9h.01M564.9 603h.01M292.5 506.3h.01M270.8 520.9h.01M299.1 527.8h.01M313.9 523.7h.01M422.4 562.2h.01M486.4 535.8h.01M525.3 600.8h.01M345.7 536.5h.01M286.3 488.9h.01M581.9 632.3h.01M246.6 416.8h.01M214.2 384.4h.01M290.2 454.9h.01M388.1 585.7h.01M697.6 650.5h.01M499.8 581.7h.01M417.8 468.1h.01M399.7 475h.01M481.3 582.6h.01M447.1 601.2h.01M327.8 486.9h.01M230.5 376.8h.01M279.6 529.6h.01M531 603.5h.01M451 552.9h.01M540.7 586.9h.01M200.7 390.4h.01M672.1 654.1h.01M431.6 562.5h.01M410.7 568.1h.01M555.5 595.8h.01M446.5 519.2h.01M471.5 590.2h.01M262.9 489.9h.01M436.3 567.8h.01M335.4 451.5h.01M252 471.6h.01M383 576.1h.01M300.9 417.2h.01M246.7 414.9h.01M174.1 361.5h.01M319.1 420h.01M282.8 529.4h.01M282.4 388.9h.01M353 432.3h.01M535.7 610.3h.01M196.8 381.2h.01M569.6 608.7h.01M415.7 555.7h.01M336.7 444.4h.01M273 447.4h.01M323 514.6h.01M581.3 621.8h.01M533.1 584.4h.01M467.8 563.5h.01M217 395.8h.01M503.1 520.2h.01M470.8 519.8h.01M319.3 469h.01M589.9 639.8h.01M282.8 442.9h.01M362.4 487.3h.01M242.9 405.3h.01M456.7 522.8h.01M227.3 422.2h.01M271.7 503.2h.01M520.8 550.8h.01M464.9 527.3h.01M502.5 520.2h.01M278.5 448.9h.01M484 538.5h.01M243.4 472.8h.01M303.5 536.7h.01M370.6 586.6h.01M242.6 461.1h.01M238 410.6h.01M460 569.1h.01M506.8 610.8h.01M340.8 533.7h.01M348.2 453.3h.01M282 400.2h.01M399.9 525.9h.01M425.1 484.3h.01M197.9 347.9h.01M645.8 646.3h.01M331.5 489h.01M498.2 590.1h.01M560.4 590.9h.01M459.4 513h.01M310.4 420.5h.01M445.3 596.5h.01M605.8 610.3h.01M238.6 481.3h.01M383.1 568.6h.01M575.7 623.7h.01M528.3 629.6h.01M509 603.1h.01M480.3 619.2h.01M248.7 447.9h.01M401.4 597.2h.01M479.2 596.9h.01M327.5 518.5h.01M392.7 460.4h.01M756.3 686.7h.01M451.6 536.8h.01M214.8 409.3h.01M246.1 390.2h.01M580.5 608h.01M567.9 590.4h.01M424.1 561.6h.01M423.2 570.7h.01M403.6 470.1h.01M503.1 525.4h.01M379 493.7h.01M464.8 507.5h.01M284.9 482.9h.01M228.1 393.2h.01M271.6 478.7h.01M586.2 645.9h.01M493.6 612.8h.01M511.3 558.4h.01M369.1 438.1h.01M377.3 457.3h.01M591.6 600.7h.01M394.8 467.9h.01M449.7 500.2h.01M342.2 526.3h.01M259.7 465h.01M447.1 550.6h.01M385.1 505.4h.01M331.3 492.6h.01M299.5 475.5h.01M482.6 565h.01M320.9 399.7h.01M423.1 563.3h.01M300 512.1h.01M513.2 563h.01M342.5 541.7h.01M382.5 551.8h.01M494.4 510.2h.01M503.8 613.7h.01M328.9 405.1h.01M572 582.1h.01M346.6 479.6h.01M778.8 679.7h.01M463.5 559.7h.01M565.2 591h.01M409.3 571.3h.01M502.1 520.8h.01M247.9 436.9h.01M779.3 696.1h.01M542.8 604.7h.01M256.3 417.1h.01M294 424.7h.01M422.7 484.1h.01M518.7 539.5h.01M728.8 666.8h.01M331.4 466.4h.01M512.8 557.6h.01M385.3 494.6h.01M337.8 454.4h.01M227.8 419.8h.01M448.5 558.1h.01M525.2 592.2h.01M644.1 632.7h.01M338.6 416h.01M690.2 645.7h.01M313.2 547.3h.01M693.9 663h.01M261.8 472.2h.01M589.5 632.7h.01M486 578.1h.01M572 587.1h.01M406.1 541.8h.01M393.8 478.8h.01M339.4 508.3h.01M593.8 624.8h.01M635 634.8h.01M264.1 464.7h.01M305.5 554.9h.01M273.3 460.9h.01M278.3 467.7h.01M422 538.4h.01M307.1 397.9h.01M293.9 382.5h.01M233.8 397.3h.01M323.5 479.8h.01M525.5 541h.01M384.1 533.9h.01M435.5 483.9h.01M312.2 481.6h.01M580.1 581.5h.01M267.9 402.4h.01M519.5 547.7h.01M371.7 474.7h.01M268.2 501.7h.01M383.4 562.4h.01M213.1 424.7h.01M634.3 635.1h.01M775.1 675.4h.01M395.7 508.2h.01M288 419.7h.01M409.2 549.6h.01M482.8 592.8h.01M384 578.2h.01M333.9 458.6h.01M295.8 506.3h.01M313.2 420.1h.01M204.3 429h.01M298.3 521.8h.01M715.9 643.6h.01M535.1 572.8h.01M353.9 483.9h.01M432 542.3h.01M286.5 515.4h.01M468.1 551.1h.01M502.9 527.5h.01M387.8 541.6h.01M594.8 617.5h.01M421.6 489.1h.01M475.5 585.3h.01M305.3 397.1h.01M456.4 558.2h.01M626.9 611.3h.01M310.3 451.3h.01M403.5 568.1h.01M240.5 397.3h.01M275.6 401.7h.01M519.5 618.7h.01M214.8 397h.01M345.4 545.2h.01M276.3 402h.01M327.9 438.5h.01M585.3 606.2h.01M486.5 611h.01M184 367.1h.01M466.4 510.5h.01M508.5 550.2h.01M510.3 533.2h.01M492.1 597.5h.01M218.6 405h.01M524.7 601.5h.01M439.8 589h.01M301 414.1h.01M510.4 606.9h.01M329.4 438.6h.01M547.9 589.2h.01M291.2 502.5h.01M327.8 520.8h.01M584.5 596.8h.01M344.4 421.6h.01M313.3 530.2h.01M502.9 568.3h.01M311.3 436.1h.01M361.3 484.6h.01M451.9 583.9h.01M201.6 416.4h.01M287.4 521.8h.01M236.9 455.9h.01M505.6 592.6h.01M286.6 490.7h.01M390.4 447.9h.01M324.9 484.7h.01M291.7 390.2h.01M394.1 480.6h.01M459.1 608h.01M487 603.2h.01M557.7 568.3h.01M301.2 449.1h.01M222.3 372.5h.01M378.1 530.9h.01M268 390.3h.01M181.1 361.7h.01M662.2 652.9h.01M447.1 565.2h.01M357.6 476h.01M253.5 412.9h.01M517.8 570.3h.01M404.6 527.1h.01M269.7 391.7h.01M561.7 637.6h.01M404 548.6h.01M314.5 495.7h.01M459.7 607.6h.01M260.2 484.3h.01M442.3 604.6h.01M492.9 596h.01M330.2 541.7h.01M483.3 543h.01M529.2 563.1h.01M568.1 596.8h.01M441.8 517.7h.01M577.1 591.9h.01M463.4 564.1h.01M673.9 639.9h.01M629.4 645h.01M199.8 412.1h.01M302.7 439.5h.01M347.8 506h.01M270.7 478.6h.01M185.4 378.1h.01M272.6 404.2h.01M517.2 617.2h.01M287.3 501h.01M299.5 467.5h.01M740.9 670.6h.01M518.6 571h.01M370.8 457.7h.01M253.4 389.9h.01M303.2 499h.01M765.8 692.6h.01M536.5 573h.01M488.3 608.3h.01M342.9 503.7h.01M495.2 591.2h.01M312.7 451.2h.01M250.6 420.1h.01M180.4 362.7h.01M312.8 502.8h.01M589 637h.01M475.9 572.5h.01M277.3 523.4h.01M334.5 547.4h.01M632.5 645.4h.01M775.1 667.6h.01M368.7 527.2h.01M683.6 640.3h.01M312.8 518h.01M460.9 576.2h.01M376 546.5h.01M306.6 448.2h.01M520.9 561.3h.01M482.6 518.6h.01M572.2 600.9h.01M261.1 414.2h.01M292 440h.01M432.4 502.2h.01M379.8 546.1h.01M279.6 532.2h.01M431.7 478.6h.01M596.6 623h.01M356.1 508.9h.01M300.9 474.7h.01M534.5 546h.01M348.7 432h.01M309.4 424.7h.01M293.2 498.6h.01M661.8 631.8h.01M339.5 435.5h.01M603.3 625.3h.01M344.9 492.7h.01M370.5 463h.01M418.9 559h.01M302.7 464.7h.01M302.4 426.7h.01M300.1 424h.01M397.4 451.2h.01M234.9 464.9h.01M529.5 616.9h.01M269.9 474.9h.01M369 446.3h.01M454.7 552.8h.01M254.3 468.6h.01M355.6 504.9h.01M417.5 529.2h.01M411.9 457.7h.01M623.9 627.2h.01M532.5 613.6h.01M246 427.6h.01M566.5 627.1h.01M411.7 574.7h.01M473.3 573.7h.01M263.9 434.3h.01M379.9 541.5h.01M484.7 560.9h.01M540.9 601.2h.01M546.7 583.7h.01M285.2 487.6h.01M566.1 571.1h.01M419.8 520.7h.01M468.4 570.7h.01M581.2 631h.01M354.2 541.5h.01M610.6 621.4h.01M548.1 560.1h.01M402.6 498h.01M269.2 521.6h.01M264.3 379.1h.01M508.4 527.1h.01M481.7 603.8h.01M194.9 352.2h.01M382.8 482.8h.01M303.3 489.9h.01M189.9 344.8h.01M530.4 547.5h.01M328.3 525.7h.01M396.6 538.6h.01M277.4 457.5h.01M437.5 594.8h.01M351 498.7h.01M547.3 597.8h.01M467.2 611.8h.01M496.1 545.3h.01M296.9 433.3h.01M609.1 617.1h.01M687.1 648.9h.01M488 554.6h.01M437 547.9h.01M359.4 558.5h.01M335.1 459.3h.01M386.9 499.7h.01M287 372.2h.01M362.7 447.6h.01M394.2 494.7h.01M349.6 514h.01M308.8 556.7h.01M450.9 568.9h.01M551 607.2h.01M466 573.3h.01M440.9 515.6h.01M298.7 388.4h.01M343 446.4h.01M575 582.2h.01M272.3 479.4h.01M170.2 365.6h.01M588.4 581.2h.01M437.8 490h.01M554.6 583.3h.01M431.5 574.3h.01M294.2 533.7h.01M369.1 439.3h.01M469.4 545.1h.01M284.7 442.3h.01M492.5 601.1h.01M490 518.3h.01M545.6 587.2h.01M361.4 485.2h.01M449.5 592.9h.01M515.1 616.4h.01M181.3 399.8h.01M241.7 410.3h.01M490.8 617.7h.01M447.9 539.1h.01M651.9 632.3h.01M210.5 359.6h.01M448.2 576.3h.01M363.4 450.2h.01M487.3 529.2h.01M294.4 472.3h.01M467.9 556.8h.01M481.7 575.3h.01M407.5 464.6h.01M300.1 538.9h.01M156.5 376.7h.01M566.9 615.3h.01M283.6 430.2h.01M219.8 454.8h.01M295.4 464.4h.01M398.9 496.6h.01M427.8 553.6h.01M584 602.7h.01M743.2 666.9h.01M371.4 484h.01M256 427.3h.01M289.2 496.5h.01M444.9 507h.01M301.6 461.1h.01M554.6 576.7h.01M286.1 441.8h.01M443.6 600h.01M449.2 555.3h.01M319.7 414.5h.01M270.5 457.5h.01M519.8 611.9h.01M502.8 580.1h.01M415.9 539.3h.01M271.3 429.2h.01M438.8 534.9h.01M309.8 431.7h.01M396.3 562.4h.01M375 567.5h.01M417.6 474.3h.01M664.8 633.5h.01M549.9 581h.01M357.9 554.6h.01M554.9 616.6h.01M525.5 550.4h.01M412.4 479.9h.01M387.9 586h.01M238 482.8h.01M304.3 486.8h.01M462.7 563.6h.01M344.1 568h.01M352.9 563.7h.01M276.4 424.1h.01M231 389.9h.01M203.8 376h.01M470.4 506.6h.01M323.2 433.3h.01M374 571.8h.01M447.2 544h.01M550.2 580.8h.01M518.4 594.1h.01M716.9 675.2h.01M215.3 367.8h.01M346 453.5h.01M377 465.7h.01M706.9 652.5h.01M211.2 398.9h.01M356.4 427.4h.01M286 423.5h.01M742.3 664.4h.01M350.7 427.1h.01M295.6 531.7h.01M290.9 472h.01M398.6 506.6h.01M377.9 472.8h.01M205 357.6h.01M200.3 419.7h.01M260.9 479.3h.01M436.9 597.1h.01M530.1 543.1h.01M383 472.1h.01M440.8 538.3h.01M455.1 499.7h.01M295.2 400.7h.01M325.7 415.8h.01M388 504.7h.01M287.1 459.1h.01M285.4 399h.01M322.3 456.2h.01M367.2 428.5h.01M370.2 538.8h.01M411.1 598.4h.01M380.8 537.1h.01M192.1 360.9h.01M302.5 515.2h.01M502.6 592.1h.01M381.7 470.2h.01M488.4 594.5h.01M326.4 541.2h.01M340.6 539.2h.01M397.9 566.5h.01M647.2 628.9h.01M324.8 543.3h.01M226.6 391.2h.01M196.2 397.1h.01M610.9 607.2h.01M319.4 547h.01M245.3 495h.01M432.5 522.5h.01M575.6 587.4h.01M434 511.8h.01M260.4 445.2h.01M354.3 472.5h.01M302.3 440.4h.01M177.1 365.8h.01M737.7 668.6h.01M374.9 473.9h.01M252.7 380.1h.01M614.7 635h.01M554 592.2h.01M297.8 440.7h.01M275.8 385.7h.01M401.3 536.5h.01M426.6 566.9h.01M607.4 600.4h.01M740.5 664.2h.01M329.9 411.7h.01M427.5 485.1h.01M247.5 449.9h.01M398.8 527.4h.01M217.7 371.8h.01M246.5 493h.01M314.9 546.8h.01M317.9 526.4h.01M487.4 608.5h.01M220.8 360.6h.01M240.8 446.7h.01M462.1 576.9h.01M470.6 524.5h.01M490.2 560.2h.01M495.3 593.6h.01M465.5 604.4h.01M412.9 549.5h.01M506.5 523.3h.01M224.1 387.1h.01M283.4 480h.01M506.6 549.1h.01M276.6 387.2h.01M403.7 479.7h.01M364.1 547.6h.01M567.2 619.9h.01M464.3 520.5h.01M369.5 456.4h.01M304.8 444.3h.01M546.2 603.8h.01M462.4 594.6h.01M367.5 454.4h.01M597.8 631.8h.01M466.2 568.4h.01M412 583.7h.01M490 585.5h.01M573.6 603h.01M229.2 400.4h.01M380.8 585.3h.01M436.9 545.9h.01M535.3 615.3h.01M492.9 577.5h.01M341.3 438.8h.01M378.8 478.9h.01M650.5 656.1h.01M356.5 496.1h.01M567.4 604h.01M360.3 508.7h.01M328.3 425.9h.01M306.2 466.3h.01M284 429.8h.01M364.2 470.8h.01M264.6 381.3h.01M562.7 574.8h.01M160 379.5h.01M681.4 649.4h.01M219.5 407.7h.01M315.8 399.7h.01M278.6 508.5h.01M295.3 421.8h.01M479.3 567.6h.01M419.5 469.7h.01M291.5 435.4h.01M282.2 432.1h.01M461.3 512.8h.01M448.5 536.9h.01M321 485h.01M326.9 476h.01M376.6 508.7h.01M648.4 630.3h.01M406.8 470h.01M571.7 591.6h.01M454.2 512.8h.01M417 486.7h.01M386.9 494.1h.01M474.6 549.3h.01M387.7 453.1h.01M498.3 517.5h.01M272.7 392.4h.01M322.6 544.1h.01M601.8 598.4h.01M574.1 574.8h.01M424.3 510.1h.01M515.3 586.2h.01M467 567.3h.01M311 537.2h.01M591.6 589.1h.01M384.2 485h.01M216 385.3h.01M289 380h.01M438.9 506.9h.01M553.4 578.6h.01M445.1 573.5h.01M355.7 486.7h.01M557.4 626.6h.01M528.7 626.1h.01M259.9 504.2h.01M428.3 541.9h.01M224 396.9h.01M397.1 508.3h.01M350.7 551.5h.01M354.7 530.2h.01M303.1 525.3h.01M303.8 488.7h.01M292.5 533.9h.01M413.5 553h.01M369.8 573.6h.01M491.5 553.9h.01M453.8 517.6h.01M715.3 656.6h.01M329 506.7h.01M346.2 557.9h.01M464.3 588.3h.01M350.8 526.1h.01M369.9 503.1h.01M449.4 599.7h.01M404.1 571.3h.01M231.8 418.5h.01M287.9 379.8h.01M445.4 497h.01M300.3 406h.01M258 482.6h.01M398.6 597.8h.01M368 573.9h.01M344.2 505.8h.01M522.1 576.7h.01M489.8 560.9h.01M416.9 590.1h.01M444.6 576.5h.01M425.8 589.3h.01M472.7 513.1h.01M588.5 626.9h.01M237.3 431.9h.01M372 469.5h.01M530.3 545.6h.01M312.3 549.9h.01M437.4 528.5h.01M207.9 390h.01M280.6 478.6h.01M352.2 483.7h.01M217.3 410.8h.01M361.4 561h.01M289.7 435.9h.01M590.4 639.8h.01M321.3 561.1h.01M344.7 472.8h.01M544.1 554.2h.01M416 540.2h.01M285.4 528.6h.01M439.4 521h.01M279 412.6h.01M295.9 502.9h.01M445.3 563.1h.01M388.9 553.2h.01M303.3 416h.01M415.8 496.1h.01M450.7 503.2h.01M305 482.5h.01M317.2 405.3h.01M607.7 639.4h.01M331.9 522.3h.01M277.3 463.4h.01M482.2 600.7h.01M550.6 594.8h.01M209.4 348h.01M482.6 511.6h.01M285.2 437.7h.01M311.9 492.4h.01M534.8 572.5h.01M220.2 358.6h.01M373.7 554h.01M393.4 526.3h.01M569 618.9h.01M410.3 486.3h.01M205.5 390.1h.01M363.6 445.3h.01M342.6 551.9h.01M354 489.6h.01M338.6 494.7h.01M521.5 567.3h.01M232.3 465h.01M554.7 564.9h.01M469.6 609.6h.01M365.7 522.7h.01M490.1 614.6h.01M351.2 473h.01M256.6 404.3h.01M358.6 482.3h.01M205.4 363.5h.01M227.3 438.4h.01M367.1 514.5h.01M560.5 608.1h.01M280.6 506.3h.01M391.4 575.5h.01M562.3 583.8h.01M636.1 632.8h.01M471.7 564.7h.01M429.1 510.1h.01M425.8 499.2h.01M434.8 505.6h.01M377.2 439.8h.01M337 462.1h.01M292.6 430.2h.01M340.2 419.1h.01M523 582.1h.01M412.9 590.8h.01M265.5 509.6h.01M198.6 397h.01M679.9 667.2h.01M459.8 536.5h.01M414.4 477.7h.01M321.4 389.9h.01M345 409h.01M743.3 636.8h.01M652.7 596.2h.01M285.3 360.2h.01M677 621.5h.01M411.9 449.5h.01M755 632.8h.01M385.9 438.9h.01M420.1 455.9h.01M730.3 616.9h.01M531.2 531.2h.01M676.3 623.9h.01M704.7 624.4h.01M690.9 610h.01M641.2 615.2h.01M516.6 525.1h.01M474.3 497.3h.01M233.6 371.8h.01M381.3 433.9h.01M241.1 382.7h.01M674.2 602.3h.01M649.3 584.5h.01M625.1 597h.01M518.1 510.5h.01M749.2 640.2h.01M762.3 658.3h.01M373.3 428.9h.01M649.2 581.9h.01M676.7 621.9h.01M617.2 569.4h.01M659.2 621.2h.01M543.2 527.1h.01M499.1 503.9h.01M741.2 650.6h.01M408.3 453.2h.01M603.7 549.8h.01M618 573.1h.01M453.4 478.4h.01M755.5 630.5h.01M442.8 476.9h.01M231.6 367.9h.01M657 605.3h.01M690.8 612.7h.01M238.5 372.1h.01M560.3 531.7h.01M543.2 531.2h.01M485.7 491.9h.01M427.1 468.4h.01M772.1 638.6h.01M456.4 489.4h.01M183.6 339.1h.01M741.2 628.9h.01M759.5 650.1h.01M237.8 376.3h.01M579.9 569h.01M541.7 535.8h.01M579.8 570.2h.01M666.8 625.8h.01M630.5 589.5h.01M166.9 347.4h.01M700.8 611.3h.01M520.7 521.3h.01M710.3 627.4h.01M333 403h.01M282.4 362.3h.01M177.5 342.9h.01M615.6 574.8h.01M673.9 589.2h.01M690 630.1h.01M565.7 550h.01M420.8 459.3h.01M767.1 648.6h.01M424.8 459.1h.01M473.2 498.3h.01M528.6 522.8h.01M612.5 569h.01M307.9 382.8h.01M610.1 596.7h.01M389.8 432.8h.01M326 399.6h.01M320.9 397.4h.01M571.1 541.1h.01M450.6 484.8h.01M602.7 547.6h.01M389.9 442.7h.01M487.3 502.2h.01M527.1 532.8h.01M180 339.2h.01M540.5 542.2h.01M520.7 519.9h.01M613.3 596.9h.01M523.2 520.7h.01M616.2 602.1h.01M609.7 565.3h.01M562.2 544h.01M555.7 543.1h.01M546.7 543h.01M589.9 580.6h.01M522.6 523.6h.01M542.5 544.6h.01M507 499h.01M551.3 538.6h.01M523 525.2h.01M610.3 575.6h.01M554.1 542.9h.01M521.4 520.5h.01M510.7 519.5h.01M586 573.7h.01M512.6 501.6h.01M601 568.1h.01M616.1 582.6h.01M390.8 606.6h.01M728.4 715.9h.01M512.3 642.8h.01M706.3 683.5h.01M601.4 682.6h.01M591.3 670.6h.01M586.2 669.7h.01M654.3 666.4h.01M678.7 672.9h.01M594 676.8h.01M358.5 592.5h.01M321.1 568.5h.01M277.4 550.9h.01M706.4 681.2h.01M465.8 634.2h.01M150.2 384.2h.01M539.4 651.6h.01M711.3 683.1h.01M747.1 699.1h.01M760.1 706.3h.01M714.6 698.8h.01M264.9 527.4h.01M485.2 644.2h.01M610.5 658.5h.01M568.1 679.7h.01M383.1 596.2h.01M174.2 399.4h.01M730.6 690.6h.01M151 236.1h.01M159.5 245.4h.01M173.9 242.9h.01M176.5 251.4h.01M166.3 253.1h.01M185 264.1h.01M154.4 265h.01M157 274.3h.01M170.5 270.9h.01M179 276h.01M189.2 277.7h.01M196 282.8h.01M173.9 283.6h.01M202.8 291.2h.01M184.1 291.2h.01M160.4 294.6h.01M159.5 299.7h.01M196 301.4h.01M204.5 296.3h.01M189.2 304.8h.01M177.3 303.1h.01M154.4 309.9h.01M165.4 314.1h.01M173.9 309.9h.01M182.4 315h.01M187.5 318.4h.01M199.4 308.2h.01M206.2 319.2h.01M219.7 313.3h.01M222.3 325.2h.01M194.7 280.1h.01M173.7 257.4h.01M194.5 299.9h.01M164.5 278.7h.01M177.3 295.3h.01M182.9 272.3h.01M172.5 268.5h.01M194.1 304.2h.01M185.1 307.4h.01M183.9 263.8h.01M184.8 289.8h.01M170.4 276.1h.01M205.5 299h.01M183.7 277.3h.01M166.5 264.6h.01M174.8 284.8h.01M178.4 256.9h.01M182.7 266.9h.01M175.6 255.9h.01M181.2 259h.01M185.1 274.7h.01M178 282.7h.01M790.3 636.3h.01M804.1 649.4h.01M830.2 662.3h.01M862.2 667.9h.01M879.7 674.8h.01M882.9 674.8h.01M910.1 680.2h.01M914.8 681.7h.01M918 683.9h.01M937.7 686.4h.01M883.5 689h.01M878.8 692.7h.01M895.1 691.1h.01M1067.9 682.4h.01M783.1 680.2h.01M792.5 678.6h.01M805.1 680.2h.01M787.8 689h.01M797.2 689h.01M808.8 692.1h.01M818.3 695.9h.01M828.6 694.9h.01M835.8 691.5h.01M801 699.6h.01M818.3 706.8h.01M808.8 710h.01M807.6 715.3h.01M788.8 734.4h.01M862.2 751.7h.01M892.3 732.5h.01M889.8 736.6h.01M923.3 743.5h.01M917 749.2h.01M958.7 733.5h.01M975.4 758.6h.01M1017.4 753.2h.01M1027.7 752.3h.01M1032.4 758.6h.01M1045.6 722.5h.01M1041.2 735.7h.01M1049 735.7h.01M1063.2 733.5h.01M1078.8 740.4h.01M1086.7 739.1h.01M1101.4 738.2h.01M1116.2 739.1h.01M1119.6 751.4h.01M1133.7 750.7h.01M1093 752.3h.01M1091.4 758.6h.01M1109.9 763.9h.01M1120.9 766.4h.01M1133.7 789.9h.01M251 342h.01M351.9 404.3h.01M411 431.9h.01M449 457h.01M470.5 472h.01M570 533.6h.01M597.6 546.3h.01M698 579h.01M538.4 687h.01M619.8 683.7h.01M619.8 702.4h.01M677.5 700.7h.01M708 710.9h.01M760.6 726h.01M772.5 707.5h.01" stroke="#6297fa" stroke-width="11" stroke-linecap="round" fill="none"/>
<path d="M150.5 382.4L158.9 395.7L167.3 408L175.6 419.5L184 430.3L192.4 440.6L200.8 450.3L209.2 459.5L217.6 468.3L225.9 476.8L234.3 484.8L242.7 492.6L251.1 500.1L259.5 507.3L267.9 514.3L276.2 521L284.6 527.6L293 533.9L301.4 540L309.8 546L318.1 551.8L326.5 557.5L334.9 563L343.3 568.3L351.7 573.6L360.1 578.7L368.4 583.6L376.8 588.5L385.2 593.2L393.6 597.9L402 602.4L410.4 606.8L418.7 611.2L427.1 615.4L435.5 619.6L443.9 623.6L452.3 627.6L460.6 631.5L469 635.3L477.4 639L485.8 642.7L494.2 646.3L502.6 649.8L510.9 653.2L519.3 656.6L527.7 659.9L536.1 663.1L544.5 666.3L552.9 669.5L561.2 672.5L569.6 675.5L578 678.5L586.4 681.4L594.8 684.2L603.1 687L611.5 689.7L619.9 692.4L628.3 695L636.7 697.6L645.1 700.2L653.4 702.6L661.8 705.1L670.2 707.5L678.6 709.9L687 712.2L695.4 714.5L703.7 716.7L712.1 718.9L720.5 721.1L728.9 723.2L737.3 725.3L745.6 727.3L754 729.3L762.4 731.3L770.8 733.3L779.2 735.2L787.6 737.1L795.9 738.9L804.3 740.7L812.7 742.5L821.1 744.3L829.5 746L837.9 747.7L846.2 749.4L854.6 751L863 752.6L871.4 754.2L879.8 755.8L888.1 757.3L896.5 758.8L904.9 760.3L913.3 761.8L921.7 763.2L930.1 764.7L938.4 766.1L946.8 767.4L955.2 768.8L963.6 770.1L972 771.4L980.4 772.7L988.7 774L997.1 775.2L1005.5 776.5L1013.9 777.7L1022.3 778.9L1030.6 780L1039 781.2L1047.4 782.3L1055.8 783.4L1064.2 784.6L1072.6 785.6L1080.9 786.7L1089.3 787.8L1097.7 788.8L1106.1 789.8L1114.5 790.8L1122.9 791.8L1131.2 792.8L1139.6 793.7L1148 794.7L1148 816.2L1139.6 815.4L1131.2 814.5L1122.9 813.6L1114.5 812.7L1106.1 811.8L1097.7 810.8L1089.3 809.9L1080.9 808.9L1072.6 808L1064.2 807L1055.8 806L1047.4 805L1039 804L1030.6 803L1022.3 801.9L1013.9 800.9L1005.5 799.8L997.1 798.7L988.7 797.6L980.4 796.5L972 795.3L963.6 794.2L955.2 793L946.8 791.9L938.4 790.7L930.1 789.4L921.7 788.2L913.3 786.9L904.9 785.7L896.5 784.4L888.1 783.1L879.8 781.7L871.4 780.4L863 779L854.6 777.6L846.2 776.2L837.9 774.8L829.5 773.3L821.1 771.8L812.7 770.3L804.3 768.7L795.9 767.2L787.6 765.6L779.2 764L770.8 762.3L762.4 760.6L754 758.9L745.6 757.2L737.3 755.4L728.9 753.6L720.5 751.8L712.1 749.9L703.7 748L695.4 746.1L687 744.1L678.6 742.1L670.2 740L661.8 737.9L653.4 735.8L645.1 733.6L636.7 731.4L628.3 729.1L619.9 726.8L611.5 724.4L603.1 722L594.8 719.5L586.4 717L578 714.4L569.6 711.8L561.2 709.1L552.9 706.3L544.5 703.5L536.1 700.6L527.7 697.7L519.3 694.6L510.9 691.6L502.6 688.4L494.2 685.1L485.8 681.8L477.4 678.4L469 674.9L460.6 671.3L452.3 667.7L443.9 663.9L435.5 660.1L427.1 656.1L418.7 652L410.4 647.8L402 643.6L393.6 639.1L385.2 634.6L376.8 630L368.4 625.2L360.1 620.3L351.7 615.2L343.3 610L334.9 604.7L326.5 599.2L318.1 593.5L309.8 587.7L301.4 581.7L293 575.6L284.6 569.2L276.2 562.7L267.9 556L259.5 549.1L251.1 542L242.7 534.7L234.3 527.3L225.9 519.6L217.6 511.7L209.2 503.7L200.8 495.4L192.4 487L184 478.5L175.6 469.8L167.3 461L158.9 452.1L150.5 443.3Z" fill="#c8c8c8" fill-opacity="0.47"/>
<path d="M123.7 281.8l7 -7l7 7l-7 7zM139.4 274.2l7 -7l7 7l-7 7zM114 306.4l7 -7l7 7l-7 7zM127.5 323.7l7 -7l7 7l-7 7zM132.6 322.5l7 -7l7 7l-7 7zM140.2 326.3l7 -7l7 7l-7 7zM164.4 335.2l7 -7l7 7l-7 7zM177.6 335.7l7 -7l7 7l-7 7zM219 349.9l7 -7l7 7l-7 7zM137.7 351.7l7 -7l7 7l-7 7zM146.6 351.7l7 -7l7 7l-7 7zM156.7 359.3l7 -7l7 7l-7 7zM163.1 351.7l7 -7l7 7l-7 7zM173.3 354.2l7 -7l7 7l-7 7zM152.9 367l7 -7l7 7l-7 7zM159.3 372l7 -7l7 7l-7 7zM166.9 369.5l7 -7l7 7l-7 7zM172 367l7 -7l7 7l-7 7zM177.1 364.4l7 -7l7 7l-7 7zM154.2 377.1l7 -7l7 7l-7 7zM166.9 377.1l7 -7l7 7l-7 7zM170.7 382.2l7 -7l7 7l-7 7zM179.6 382.2l7 -7l7 7l-7 7zM166.9 387.3l7 -7l7 7l-7 7zM192.3 388.6l7 -7l7 7l-7 7zM188.5 410.2l7 -7l7 7l-7 7zM194.9 415.3l7 -7l7 7l-7 7zM230.5 386l7 -7l7 7l-7 7zM248.3 386l7 -7l7 7l-7 7zM241.9 403.8l7 -7l7 7l-7 7zM235.6 425.4l7 -7l7 7l-7 7zM243.2 433.1l7 -7l7 7l-7 7zM250.8 440.7l7 -7l7 7l-7 7zM222.8 428l7 -7l7 7l-7 7zM230.5 438.2l7 -7l7 7l-7 7zM248.3 448.3l7 -7l7 7l-7 7zM291.5 438.2l7 -7l7 7l-7 7zM264.8 453.4l7 -7l7 7l-7 7zM278.8 463.6l7 -7l7 7l-7 7zM268.6 463.6l7 -7l7 7l-7 7zM261 471.2l7 -7l7 7l-7 7zM161 364l7 -7l7 7l-7 7zM164 374l7 -7l7 7l-7 7zM169 373l7 -7l7 7l-7 7zM162 380l7 -7l7 7l-7 7zM174 376l7 -7l7 7l-7 7z" fill="none" stroke="#000" stroke-width="1.65"/>
<g fill="none" stroke="#000" stroke-width="1.7" stroke-dasharray="6.2 6.4" clip-path="url(#c)">
<path d="M150.5 549.7L157.2 557.2L163.9 564.4L170.5 571.4L177.2 578.1L183.9 584.6L190.6 590.9L197.3 597L203.9 602.8L210.6 608.5L217.3 614L224 619.4L230.7 624.5L237.3 629.5L244 634.4L250.7 639.1L257.4 643.7L264.1 648.2L270.7 652.5L277.4 656.7L284.1 660.8L290.8 664.8L297.5 668.7L304.1 672.4L310.8 676.1L317.5 679.7L324.2 683.2L330.9 686.6L337.5 689.9L344.2 693.2L350.9 696.3L357.6 699.4L364.3 702.5L370.9 705.4L377.6 708.3L384.3 711.1L391 713.9L397.7 716.6L404.3 719.2L411 721.8L417.7 724.3L424.4 726.8L431 729.2L437.7 731.6L444.4 733.9L451.1 736.2L457.8 738.4L464.4 740.6L471.1 742.8L477.8 744.9L484.5 746.9L491.2 749L497.8 751L504.5 752.9L511.2 754.8L517.9 756.7L524.6 758.5L531.2 760.4L537.9 762.1L544.6 763.9L551.3 765.6L558 767.3L564.6 769L571.3 770.6L578 772.2L584.7 773.8L591.4 775.3L598 776.8L604.7 778.3L611.4 779.8L618.1 781.3L624.8 782.7L631.4 784.1L638.1 785.5L644.8 786.9L651.5 788.2L658.2 789.5L664.8 790.8L671.5 792.1L678.2 793.4L684.9 794.6L691.6 795.9L698.2 797.1L704.9 798.3L711.6 799.4L718.3 800.6L725 801.7L731.6 802.9L738.3 804L745 805.1L751.7 806.2L758.4 807.2L765 808.3L771.7 809.3L778.4 810.3L785.1 811.4L791.8 812.4L798.4 813.3L805.1 814.3L811.8 815.3L818.5 816.2L825.2 817.1L831.8 818.1L838.5 819L845.2 819.9L851.9 820.8L858.6 821.6L865.2 822.5L871.9 823.4L878.6 824.2L885.3 825L892 825.9L898.6 826.7L905.3 827.5L912 828.3L918.7 829.1L925.3 829.9L932 830.6L938.7 831.4L945.4 832.1L952.1 832.9L958.7 833.6L965.4 834.3L972.1 835.1L978.8 835.8L985.5 836.5L992.1 837.2L998.8 837.9L1005.5 838.5L1012.2 839.2L1018.9 839.9L1025.5 840.5L1032.2 841.2L1038.9 841.8L1045.6 842.5L1052.3 843.1L1058.9 843.7L1065.6 844.4L1072.3 845L1079 845.6L1085.7 846.2L1092.3 846.8L1099 847.4L1105.7 847.9L1112.4 848.5L1119.1 849.1L1125.7 849.6L1132.4 850.2L1139.1 850.8L1145.8 851.3"/>
<path d="M150.5 478.1L157.2 485.6L163.9 493L170.5 500.1L177.2 507.1L183.9 514L190.6 520.6L197.3 527.1L203.9 533.5L210.6 539.7L217.3 545.7L224 551.6L230.7 557.4L237.3 563L244 568.4L250.7 573.8L257.4 579L264.1 584.1L270.7 589L277.4 593.9L284.1 598.6L290.8 603.2L297.5 607.8L304.1 612.2L310.8 616.5L317.5 620.7L324.2 624.8L330.9 628.8L337.5 632.8L344.2 636.6L350.9 640.4L357.6 644.1L364.3 647.7L370.9 651.2L377.6 654.6L384.3 658L391 661.3L397.7 664.6L404.3 667.8L411 670.9L417.7 673.9L424.4 676.9L431 679.8L437.7 682.7L444.4 685.5L451.1 688.3L457.8 691L464.4 693.6L471.1 696.2L477.8 698.8L484.5 701.3L491.2 703.8L497.8 706.2L504.5 708.6L511.2 710.9L517.9 713.2L524.6 715.4L531.2 717.7L537.9 719.8L544.6 722L551.3 724.1L558 726.1L564.6 728.2L571.3 730.1L578 732.1L584.7 734L591.4 735.9L598 737.8L604.7 739.6L611.4 741.4L618.1 743.2L624.8 745L631.4 746.7L638.1 748.4L644.8 750L651.5 751.7L658.2 753.3L664.8 754.9L671.5 756.5L678.2 758L684.9 759.5L691.6 761L698.2 762.5L704.9 764L711.6 765.4L718.3 766.8L725 768.2L731.6 769.6L738.3 770.9L745 772.3L751.7 773.6L758.4 774.9L765 776.2L771.7 777.4L778.4 778.7L785.1 779.9L791.8 781.1L798.4 782.3L805.1 783.5L811.8 784.6L818.5 785.8L825.2 786.9L831.8 788.1L838.5 789.2L845.2 790.2L851.9 791.3L858.6 792.4L865.2 793.4L871.9 794.5L878.6 795.5L885.3 796.5L892 797.5L898.6 798.5L905.3 799.5L912 800.4L918.7 801.4L925.3 802.3L932 803.3L938.7 804.2L945.4 805.1L952.1 806L958.7 806.9L965.4 807.7L972.1 808.6L978.8 809.5L985.5 810.3L992.1 811.1L998.8 812L1005.5 812.8L1012.2 813.6L1018.9 814.4L1025.5 815.2L1032.2 816L1038.9 816.7L1045.6 817.5L1052.3 818.3L1058.9 819L1065.6 819.7L1072.3 820.5L1079 821.2L1085.7 821.9L1092.3 822.6L1099 823.3L1105.7 824L1112.4 824.7L1119.1 825.4L1125.7 826.1L1132.4 826.7L1139.1 827.4L1145.8 828.1"/>
<path d="M150.5 400.3L157.2 409.4L163.9 418.2L170.5 426.7L177.2 435.1L183.9 443.1L190.6 451L197.3 458.6L203.9 466L210.6 473.3L217.3 480.3L224 487.1L230.7 493.8L237.3 500.3L244 506.6L250.7 512.7L257.4 518.7L264.1 524.5L270.7 530.2L277.4 535.8L284.1 541.2L290.8 546.5L297.5 551.6L304.1 556.6L310.8 561.5L317.5 566.3L324.2 571L330.9 575.6L337.5 580.1L344.2 584.4L350.9 588.7L357.6 592.9L364.3 597L370.9 601L377.6 604.9L384.3 608.8L391 612.5L397.7 616.2L404.3 619.8L411 623.3L417.7 626.8L424.4 630.2L431 633.5L437.7 636.7L444.4 639.9L451.1 643.1L457.8 646.1L464.4 649.1L471.1 652.1L477.8 655L484.5 657.8L491.2 660.6L497.8 663.4L504.5 666.1L511.2 668.7L517.9 671.3L524.6 673.9L531.2 676.4L537.9 678.9L544.6 681.3L551.3 683.7L558 686L564.6 688.3L571.3 690.6L578 692.8L584.7 695L591.4 697.2L598 699.3L604.7 701.4L611.4 703.5L618.1 705.5L624.8 707.5L631.4 709.5L638.1 711.4L644.8 713.3L651.5 715.2L658.2 717L664.8 718.8L671.5 720.6L678.2 722.4L684.9 724.1L691.6 725.9L698.2 727.5L704.9 729.2L711.6 730.9L718.3 732.5L725 734.1L731.6 735.7L738.3 737.2L745 738.7L751.7 740.3L758.4 741.8L765 743.2L771.7 744.7L778.4 746.1L785.1 747.5L791.8 748.9L798.4 750.3L805.1 751.7L811.8 753L818.5 754.3L825.2 755.6L831.8 756.9L838.5 758.2L845.2 759.5L851.9 760.7L858.6 761.9L865.2 763.2L871.9 764.4L878.6 765.5L885.3 766.7L892 767.9L898.6 769L905.3 770.1L912 771.3L918.7 772.4L925.3 773.5L932 774.5L938.7 775.6L945.4 776.7L952.1 777.7L958.7 778.7L965.4 779.7L972.1 780.8L978.8 781.7L985.5 782.7L992.1 783.7L998.8 784.7L1005.5 785.6L1012.2 786.6L1018.9 787.5L1025.5 788.4L1032.2 789.3L1038.9 790.2L1045.6 791.1L1052.3 792L1058.9 792.9L1065.6 793.8L1072.3 794.6L1079 795.5L1085.7 796.3L1092.3 797.1L1099 798L1105.7 798.8L1112.4 799.6L1119.1 800.4L1125.7 801.2L1132.4 802L1139.1 802.7L1145.8 803.5"/>
<path d="M150.5 322.8L157.2 333.1L163.9 343.1L170.5 352.8L177.2 362.1L183.9 371.2L190.6 379.9L197.3 388.4L203.9 396.7L210.6 404.7L217.3 412.5L224 420L230.7 427.4L237.3 434.5L244 441.4L250.7 448.2L257.4 454.8L264.1 461.2L270.7 467.4L277.4 473.5L284.1 479.5L290.8 485.3L297.5 490.9L304.1 496.4L310.8 501.8L317.5 507.1L324.2 512.2L330.9 517.3L337.5 522.2L344.2 527L350.9 531.7L357.6 536.3L364.3 540.8L370.9 545.2L377.6 549.5L384.3 553.8L391 557.9L397.7 562L404.3 565.9L411 569.9L417.7 573.7L424.4 577.4L431 581.1L437.7 584.7L444.4 588.3L451.1 591.8L457.8 595.2L464.4 598.5L471.1 601.8L477.8 605.1L484.5 608.3L491.2 611.4L497.8 614.5L504.5 617.5L511.2 620.4L517.9 623.4L524.6 626.2L531.2 629.1L537.9 631.8L544.6 634.6L551.3 637.3L558 639.9L564.6 642.5L571.3 645.1L578 647.6L584.7 650.1L591.4 652.5L598 655L604.7 657.3L611.4 659.7L618.1 662L624.8 664.3L631.4 666.5L638.1 668.7L644.8 670.9L651.5 673L658.2 675.1L664.8 677.2L671.5 679.3L678.2 681.3L684.9 683.3L691.6 685.3L698.2 687.2L704.9 689.2L711.6 691.1L718.3 692.9L725 694.8L731.6 696.6L738.3 698.4L745 700.2L751.7 701.9L758.4 703.7L765 705.4L771.7 707.1L778.4 708.7L785.1 710.4L791.8 712L798.4 713.6L805.1 715.2L811.8 716.8L818.5 718.3L825.2 719.9L831.8 721.4L838.5 722.9L845.2 724.4L851.9 725.8L858.6 727.3L865.2 728.7L871.9 730.1L878.6 731.5L885.3 732.9L892 734.3L898.6 735.6L905.3 737L912 738.3L918.7 739.6L925.3 740.9L932 742.2L938.7 743.4L945.4 744.7L952.1 745.9L958.7 747.1L965.4 748.4L972.1 749.6L978.8 750.7L985.5 751.9L992.1 753.1L998.8 754.2L1005.5 755.4L1012.2 756.5L1018.9 757.6L1025.5 758.7L1032.2 759.8L1038.9 760.9L1045.6 762L1052.3 763L1058.9 764.1L1065.6 765.1L1072.3 766.2L1079 767.2L1085.7 768.2L1092.3 769.2L1099 770.2L1105.7 771.2L1112.4 772.2L1119.1 773.1L1125.7 774.1L1132.4 775.1L1139.1 776L1145.8 776.9"/>
<path d="M150.5 240.8L157.2 251.4L163.9 261.7L170.5 271.9L177.2 281.7L183.9 291.3L190.6 300.7L197.3 309.9L203.9 318.8L210.6 327.5L217.3 336L224 344.3L230.7 352.4L237.3 360.3L244 368L250.7 375.5L257.4 382.9L264.1 390.1L270.7 397.1L277.4 403.9L284.1 410.6L290.8 417.2L297.5 423.6L304.1 429.8L310.8 435.9L317.5 441.9L324.2 447.8L330.9 453.5L337.5 459.1L344.2 464.6L350.9 469.9L357.6 475.2L364.3 480.3L370.9 485.4L377.6 490.3L384.3 495.2L391 499.9L397.7 504.6L404.3 509.1L411 513.6L417.7 518L424.4 522.3L431 526.5L437.7 530.6L444.4 534.7L451.1 538.7L457.8 542.6L464.4 546.4L471.1 550.2L477.8 553.9L484.5 557.6L491.2 561.1L497.8 564.7L504.5 568.1L511.2 571.5L517.9 574.8L524.6 578.1L531.2 581.3L537.9 584.5L544.6 587.6L551.3 590.7L558 593.7L564.6 596.7L571.3 599.6L578 602.5L584.7 605.3L591.4 608.1L598 610.9L604.7 613.6L611.4 616.2L618.1 618.8L624.8 621.4L631.4 624L638.1 626.5L644.8 628.9L651.5 631.4L658.2 633.7L664.8 636.1L671.5 638.4L678.2 640.7L684.9 643L691.6 645.2L698.2 647.4L704.9 649.6L711.6 651.7L718.3 653.8L725 655.9L731.6 657.9L738.3 660L745 662L751.7 663.9L758.4 665.9L765 667.8L771.7 669.7L778.4 671.6L785.1 673.4L791.8 675.2L798.4 677L805.1 678.8L811.8 680.5L818.5 682.3L825.2 684L831.8 685.7L838.5 687.3L845.2 689L851.9 690.6L858.6 692.2L865.2 693.8L871.9 695.4L878.6 696.9L885.3 698.5L892 700L898.6 701.5L905.3 703L912 704.4L918.7 705.9L925.3 707.3L932 708.7L938.7 710.1L945.4 711.5L952.1 712.9L958.7 714.2L965.4 715.5L972.1 716.9L978.8 718.2L985.5 719.5L992.1 720.7L998.8 722L1005.5 723.3L1012.2 724.5L1018.9 725.7L1025.5 726.9L1032.2 728.1L1038.9 729.3L1045.6 730.5L1052.3 731.7L1058.9 732.8L1065.6 734L1072.3 735.1L1079 736.2L1085.7 737.3L1092.3 738.4L1099 739.5L1105.7 740.6L1112.4 741.6L1119.1 742.7L1125.7 743.7L1132.4 744.7L1139.1 745.8L1145.8 746.8"/>
<path d="M150.5 147.3L157.2 160.2L163.9 172.7L170.5 184.8L177.2 196.5L183.9 207.8L190.6 218.8L197.3 229.4L203.9 239.8L210.6 249.8L217.3 259.6L224 269L230.7 278.2L237.3 287.2L244 295.9L250.7 304.4L257.4 312.6L264.1 320.6L270.7 328.5L277.4 336.1L284.1 343.6L290.8 350.8L297.5 357.9L304.1 364.8L310.8 371.6L317.5 378.2L324.2 384.7L330.9 391L337.5 397.1L344.2 403.2L350.9 409.1L357.6 414.8L364.3 420.5L370.9 426L377.6 431.4L384.3 436.8L391 442L397.7 447L404.3 452L411 456.9L417.7 461.7L424.4 466.4L431 471.1L437.7 475.6L444.4 480.1L451.1 484.4L457.8 488.7L464.4 492.9L471.1 497L477.8 501.1L484.5 505.1L491.2 509L497.8 512.9L504.5 516.7L511.2 520.4L517.9 524.1L524.6 527.7L531.2 531.2L537.9 534.7L544.6 538.1L551.3 541.5L558 544.8L564.6 548.1L571.3 551.3L578 554.5L584.7 557.6L591.4 560.7L598 563.7L604.7 566.7L611.4 569.6L618.1 572.5L624.8 575.3L631.4 578.2L638.1 580.9L644.8 583.7L651.5 586.3L658.2 589L664.8 591.6L671.5 594.2L678.2 596.7L684.9 599.3L691.6 601.7L698.2 604.2L704.9 606.6L711.6 609L718.3 611.3L725 613.6L731.6 615.9L738.3 618.2L745 620.4L751.7 622.6L758.4 624.8L765 626.9L771.7 629.1L778.4 631.1L785.1 633.2L791.8 635.3L798.4 637.3L805.1 639.3L811.8 641.2L818.5 643.2L825.2 645.1L831.8 647L838.5 648.9L845.2 650.7L851.9 652.6L858.6 654.4L865.2 656.2L871.9 658L878.6 659.7L885.3 661.5L892 663.2L898.6 664.9L905.3 666.5L912 668.2L918.7 669.8L925.3 671.5L932 673.1L938.7 674.7L945.4 676.2L952.1 677.8L958.7 679.3L965.4 680.9L972.1 682.4L978.8 683.9L985.5 685.3L992.1 686.8L998.8 688.2L1005.5 689.7L1012.2 691.1L1018.9 692.5L1025.5 693.9L1032.2 695.3L1038.9 696.6L1045.6 698L1052.3 699.3L1058.9 700.6L1065.6 701.9L1072.3 703.2L1079 704.5L1085.7 705.8L1092.3 707.1L1099 708.3L1105.7 709.6L1112.4 710.8L1119.1 712L1125.7 713.2L1132.4 714.4L1139.1 715.6L1145.8 716.7"/>
<path d="M150.5 60.7L157.2 73.9L163.9 86.7L170.5 99.2L177.2 111.4L183.9 123.3L190.6 134.8L197.3 146L203.9 157L210.6 167.7L217.3 178.1L224 188.2L230.7 198.1L237.3 207.8L244 217.2L250.7 226.4L257.4 235.4L264.1 244.1L270.7 252.7L277.4 261L284.1 269.2L290.8 277.1L297.5 284.9L304.1 292.6L310.8 300L317.5 307.3L324.2 314.4L330.9 321.4L337.5 328.2L344.2 334.9L350.9 341.5L357.6 347.9L364.3 354.1L370.9 360.3L377.6 366.3L384.3 372.2L391 378L397.7 383.7L404.3 389.3L411 394.7L417.7 400.1L424.4 405.4L431 410.5L437.7 415.6L444.4 420.6L451.1 425.4L457.8 430.2L464.4 434.9L471.1 439.6L477.8 444.1L484.5 448.6L491.2 453L497.8 457.3L504.5 461.5L511.2 465.7L517.9 469.8L524.6 473.8L531.2 477.8L537.9 481.7L544.6 485.5L551.3 489.3L558 493L564.6 496.7L571.3 500.3L578 503.9L584.7 507.4L591.4 510.8L598 514.2L604.7 517.5L611.4 520.8L618.1 524L624.8 527.2L631.4 530.4L638.1 533.5L644.8 536.5L651.5 539.5L658.2 542.5L664.8 545.4L671.5 548.3L678.2 551.2L684.9 554L691.6 556.7L698.2 559.5L704.9 562.2L711.6 564.8L718.3 567.5L725 570L731.6 572.6L738.3 575.1L745 577.6L751.7 580.1L758.4 582.5L765 584.9L771.7 587.2L778.4 589.6L785.1 591.9L791.8 594.2L798.4 596.4L805.1 598.6L811.8 600.8L818.5 603L825.2 605.1L831.8 607.2L838.5 609.3L845.2 611.4L851.9 613.4L858.6 615.5L865.2 617.5L871.9 619.4L878.6 621.4L885.3 623.3L892 625.2L898.6 627.1L905.3 628.9L912 630.8L918.7 632.6L925.3 634.4L932 636.2L938.7 638L945.4 639.7L952.1 641.4L958.7 643.1L965.4 644.8L972.1 646.5L978.8 648.1L985.5 649.8L992.1 651.4L998.8 653L1005.5 654.6L1012.2 656.1L1018.9 657.7L1025.5 659.2L1032.2 660.7L1038.9 662.2L1045.6 663.7L1052.3 665.2L1058.9 666.7L1065.6 668.1L1072.3 669.6L1079 671L1085.7 672.4L1092.3 673.8L1099 675.1L1105.7 676.5L1112.4 677.9L1119.1 679.2L1125.7 680.5L1132.4 681.8L1139.1 683.1L1145.8 684.4"/>
<path d="M170.5 9.2L177.2 23.5L183.9 37.3L190.6 50.6L197.3 63.4L203.9 75.9L210.6 88L217.3 99.7L224 111L230.7 122L237.3 132.7L244 143L250.7 153.1L257.4 163L264.1 172.5L270.7 181.8L277.4 190.9L284.1 199.7L290.8 208.3L297.5 216.7L304.1 224.9L310.8 232.9L317.5 240.7L324.2 248.3L330.9 255.8L337.5 263.1L344.2 270.2L350.9 277.2L357.6 284L364.3 290.7L370.9 297.2L377.6 303.6L384.3 309.9L391 316L397.7 322.1L404.3 328L411 333.8L417.7 339.5L424.4 345.1L431 350.5L437.7 355.9L444.4 361.2L451.1 366.4L457.8 371.5L464.4 376.5L471.1 381.4L477.8 386.2L484.5 391L491.2 395.6L497.8 400.2L504.5 404.7L511.2 409.2L517.9 413.5L524.6 417.8L531.2 422.1L537.9 426.2L544.6 430.4L551.3 434.4L558 438.4L564.6 442.3L571.3 446.1L578 449.9L584.7 453.7L591.4 457.4L598 461L604.7 464.6L611.4 468.1L618.1 471.6L624.8 475.1L631.4 478.5L638.1 481.8L644.8 485.1L651.5 488.4L658.2 491.6L664.8 494.7L671.5 497.9L678.2 500.9L684.9 504L691.6 507L698.2 510L704.9 512.9L711.6 515.8L718.3 518.6L725 521.5L731.6 524.3L738.3 527L745 529.7L751.7 532.4L758.4 535.1L765 537.7L771.7 540.3L778.4 542.9L785.1 545.4L791.8 547.9L798.4 550.4L805.1 552.8L811.8 555.2L818.5 557.6L825.2 560L831.8 562.3L838.5 564.6L845.2 566.9L851.9 569.2L858.6 571.4L865.2 573.6L871.9 575.8L878.6 578L885.3 580.1L892 582.3L898.6 584.4L905.3 586.4L912 588.5L918.7 590.5L925.3 592.6L932 594.5L938.7 596.5L945.4 598.5L952.1 600.4L958.7 602.3L965.4 604.2L972.1 606.1L978.8 608L985.5 609.8L992.1 611.6L998.8 613.4L1005.5 615.2L1012.2 617L1018.9 618.8L1025.5 620.5L1032.2 622.2L1038.9 623.9L1045.6 625.6L1052.3 627.3L1058.9 629L1065.6 630.6L1072.3 632.2L1079 633.8L1085.7 635.4L1092.3 637L1099 638.6L1105.7 640.2L1112.4 641.7L1119.1 643.2L1125.7 644.8L1132.4 646.3L1139.1 647.8L1145.8 649.2"/>
<path d="M210.6 0.3L217.3 12.7L224 24.7L230.7 36.5L237.3 47.9L244 59L250.7 69.8L257.4 80.4L264.1 90.6L270.7 100.7L277.4 110.4L284.1 120L290.8 129.3L297.5 138.4L304.1 147.3L310.8 156L317.5 164.4L324.2 172.8L330.9 180.9L337.5 188.8L344.2 196.6L350.9 204.2L357.6 211.7L364.3 219L370.9 226.2L377.6 233.2L384.3 240.1L391 246.8L397.7 253.4L404.3 259.9L411 266.3L417.7 272.5L424.4 278.7L431 284.7L437.7 290.6L444.4 296.4L451.1 302.1L457.8 307.8L464.4 313.3L471.1 318.7L477.8 324L484.5 329.3L491.2 334.4L497.8 339.5L504.5 344.5L511.2 349.4L517.9 354.2L524.6 359L531.2 363.7L537.9 368.3L544.6 372.8L551.3 377.3L558 381.7L564.6 386L571.3 390.3L578 394.5L584.7 398.6L591.4 402.7L598 406.8L604.7 410.7L611.4 414.7L618.1 418.5L624.8 422.3L631.4 426.1L638.1 429.8L644.8 433.4L651.5 437L658.2 440.6L664.8 444.1L671.5 447.6L678.2 451L684.9 454.4L691.6 457.7L698.2 461L704.9 464.3L711.6 467.5L718.3 470.6L725 473.8L731.6 476.9L738.3 479.9L745 482.9L751.7 485.9L758.4 488.8L765 491.8L771.7 494.6L778.4 497.5L785.1 500.3L791.8 503.1L798.4 505.8L805.1 508.5L811.8 511.2L818.5 513.8L825.2 516.5L831.8 519.1L838.5 521.6L845.2 524.2L851.9 526.7L858.6 529.1L865.2 531.6L871.9 534L878.6 536.4L885.3 538.8L892 541.2L898.6 543.5L905.3 545.8L912 548.1L918.7 550.3L925.3 552.6L932 554.8L938.7 557L945.4 559.1L952.1 561.3L958.7 563.4L965.4 565.5L972.1 567.6L978.8 569.6L985.5 571.7L992.1 573.7L998.8 575.7L1005.5 577.7L1012.2 579.6L1018.9 581.6L1025.5 583.5L1032.2 585.4L1038.9 587.3L1045.6 589.2L1052.3 591L1058.9 592.9L1065.6 594.7L1072.3 596.5L1079 598.3L1085.7 600L1092.3 601.8L1099 603.5L1105.7 605.3L1112.4 607L1119.1 608.7L1125.7 610.3L1132.4 612L1139.1 613.7L1145.8 615.3"/>
</g>
<text x="127" y="41.7" font-size="21.3" fill="#7f7f7f" stroke="#7f7f7f" stroke-width="0.25" text-anchor="middle" dominant-baseline="central" transform="rotate(51 127 41.7)">3.0</text>
<text x="128.1" y="139.1" font-size="21.3" fill="#7f7f7f" stroke="#7f7f7f" stroke-width="0.25" text-anchor="middle" dominant-baseline="central" transform="rotate(51 128.1 139.1)">2.8</text>
<text x="128.1" y="235" font-size="21.3" fill="#7f7f7f" stroke="#7f7f7f" stroke-width="0.25" text-anchor="middle" dominant-baseline="central" transform="rotate(51 128.1 235)">2.6</text>
<text x="128.1" y="326.4" font-size="21.3" fill="#7f7f7f" stroke="#7f7f7f" stroke-width="0.25" text-anchor="middle" dominant-baseline="central" transform="rotate(51 128.1 326.4)">2.4</text>
<text x="128.1" y="411.7" font-size="21.3" fill="#7f7f7f" stroke="#7f7f7f" stroke-width="0.25" text-anchor="middle" dominant-baseline="central" transform="rotate(51 128.1 411.7)">2.2</text>
<text x="128" y="488" font-size="21.3" fill="#7f7f7f" stroke="#7f7f7f" stroke-width="0.25" text-anchor="middle" dominant-baseline="central" transform="rotate(51 128 488)">2.0</text>
<text x="199.7" y="21.4" font-size="21.3" fill="#7f7f7f" stroke="#7f7f7f" stroke-width="0.25" text-anchor="middle" dominant-baseline="central" transform="rotate(51 199.7 21.4)">3.2</text>
<text x="253" y="23.4" font-size="21.3" fill="#7f7f7f" stroke="#7f7f7f" stroke-width="0.25" text-anchor="middle" dominant-baseline="central" transform="rotate(51 253 23.4)">3.4</text>
<text x="304.9" y="23.4" font-size="21.3" fill="#7f7f7f" stroke="#7f7f7f" stroke-width="0.25" text-anchor="middle" dominant-baseline="central" transform="rotate(51 304.9 23.4)">3.6</text>
<text font-size="29.4" transform="translate(226.8 878) rotate(-90)">Pre-industrial pCO<tspan font-size="19" dy="6">2</tspan></text>
<text font-size="29.8" transform="translate(369 885) rotate(-90)">2016 pCO<tspan font-size="19" dy="6">2</tspan></text>
<g fill="none" stroke="#000" stroke-width="4" stroke-linecap="round" stroke-linejoin="round">
<path d="M153 30.5C157.7 42.1 172.2 78.7 181.3 100C190.4 121.3 198.4 138.4 207.4 158.2C216.4 177.9 227.9 203.2 235.5 218.5C243.1 233.8 242 229.8 252.7 250C263.4 270.2 284.9 311.4 299.5 340C314.1 368.6 330.9 399.7 340 421.4C349.1 443.1 350.8 455.2 354 470C357.2 484.8 357.3 494.4 359 510C360.7 525.6 362.7 548.9 364.3 563.4C365.9 577.9 367.8 591.4 368.5 597"/>
<path d="M271.8 331.4C283.2 346.4 322.9 398.3 340 421.4C357.1 444.5 365.2 455.7 374.5 470C383.8 484.3 391.6 498.6 396 507.3C400.4 516 399.9 519.8 400.7 522.3"/>
<path d="M400.7 522.3C413 533.8 462.2 579.5 474.5 591"/>
<path d="M475.4 594.3C483.8 601 517.5 627.7 525.9 634.4"/>
<path d="M400.7 522.3C400.2 523.9 399.4 529.2 398 532C396.6 534.8 395.8 535.3 392.3 539C388.9 542.7 381 549.3 377.3 554C373.6 558.7 371.5 559.8 370 567C368.5 574.2 368.8 592 368.5 597"/>
<path d="M369.5 597C371.2 596.1 376.2 592.6 380 591.5C383.8 590.4 384 589.6 392.3 590.5C400.6 591.4 418.4 595.4 429.7 597C441 598.6 453.1 600 460 600.3C466.9 600.6 468.4 600 471 599C473.6 598 474.9 595.7 475.4 594.3C475.9 592.9 474.2 591.1 474 590.5"/>
<path d="M370 599.5C373.7 600.6 382.4 602.8 392.3 606C402.2 609.2 417.2 614.5 429.7 618.7C442.1 622.9 454.6 628.1 467 631.3C479.4 634.4 495.6 636.4 504.4 637.6C513.2 638.8 516.4 638.8 520 638.5C523.6 638.2 525.2 636.8 526 636C526.8 635.2 525.2 633.9 525 633.5"/>
<path d="M370.5 598C370.9 599.5 371.8 604.5 373 607C374.2 609.5 371.7 609.8 378 613C384.3 616.2 396.2 620.6 411 626.2C425.8 631.8 448.3 640.1 467 646.6C485.7 653.1 507.4 660.4 523 665.2C538.6 670 550.1 673.5 560.4 675.5C570.6 677.5 580.5 676.9 584.5 677.2"/>
<path d="M557.8 660.7C562.2 663.5 580 674.5 584.5 677.2"/>
<path d="M371 600C371.2 601.5 371.7 606.1 372.5 609C373.3 611.9 369.6 613.1 376 617.5C382.4 621.9 395.8 628.1 411 635.4C426.2 642.7 448.3 653.7 467 661.5C485.7 669.3 505 675.8 523 682C541 688.2 563.7 695.2 575 698.9C586.3 702.5 579.8 701 590.9 703.9C602 706.8 630.9 713.8 641.7 716C652.5 718.2 653.4 717.2 655.7 717.4"/>
<path d="M371 600C371.2 602.3 371.4 610 372 614C372.6 618 368 618.4 374.5 623.8C381 629.2 395.6 638.1 411 646.6C426.4 655.1 448.3 666.5 467 674.6C485.7 682.7 505 689.1 523 695C541 700.9 559.5 705.1 575 710C590.5 714.9 601 719.5 616.3 724.2C631.6 728.9 649.2 733.5 667 738C684.8 742.5 713.7 749.2 723 751.5"/>
</g>
<path d="M372.9 590V634" stroke="#222" stroke-width="1.1" fill="none"/><path d="M372.7 543.5L371.6 570L370.5 598" stroke="#000" stroke-width="3" stroke-linecap="round" fill="none"/>
<g font-size="29">
<text x="307.1" y="329.5">867 Gt C</text>
<text x="404.4" y="522.5">618 Gt C</text>
<text x="491.3" y="599">472 Gt C</text>
<text x="585.8" y="682.5">314 Gt C</text>
<text x="666.4" y="720">143 Gt C</text>
<text x="735.8" y="772.5">0 Gt C</text>
<text transform="translate(142.7 88.8) rotate(68)">1055 Gt C</text>
</g>
<g font-size="29.5" font-weight="bold" text-anchor="end"><text x="1147.3" y="479.2">pre-industrial maximum Ω</text><text x="1146.2" y="623.3">current minimum Ω</text></g>
<circle cx="222.7" cy="404.6" r="20.5" fill="#fff" stroke="#000" stroke-width="1.4"/><text x="224.6" y="415.2" font-size="34.7" text-anchor="middle">A</text>
<rect x="161.1" y="19.7" width="43.7" height="42.7" fill="#000"/><text x="183.3" y="53.3" font-size="32" fill="#fff" text-anchor="middle">E</text>
<g stroke="#000" stroke-width="1.7" fill="none">
<path d="M95.1 0.6H1148.0V883.7H95.1Z"/>
<path d="M95.1 883.7v11.6M150.5 883.7v11.6M205.9 883.7v11.6M261.3 883.7v11.6M316.7 883.7v11.6M372.2 883.7v11.6M427.6 883.7v11.6M483 883.7v11.6M538.4 883.7v11.6M593.8 883.7v11.6M649.2 883.7v11.6M704.7 883.7v11.6M760.1 883.7v11.6M815.5 883.7v11.6M870.9 883.7v11.6M926.3 883.7v11.6M981.7 883.7v11.6M1037.2 883.7v11.6M1092.6 883.7v11.6M1148 883.7v11.6M95.1 883.6h-11.6M95.1 795.3h-11.6M95.1 707h-11.6M95.1 618.6h-11.6M95.1 530.3h-11.6M95.1 442h-11.6M95.1 353.7h-11.6M95.1 265.4h-11.6M95.1 177h-11.6M95.1 88.7h-11.6"/>
</g>
<g font-size="29.3" text-anchor="middle">
<text x="150.5" y="943">200</text>
<text x="261.3" y="943">300</text>
<text x="372.2" y="943">400</text>
<text x="483" y="943">500</text>
<text x="593.8" y="943">600</text>
<text x="704.7" y="943">700</text>
<text x="815.5" y="943">800</text>
<text x="926.3" y="943">900</text>
<text x="1037.2" y="943">1000</text>
<text x="1148" y="943">1100</text>
</g><g font-size="29.3" text-anchor="end">
<text x="62.3" y="806.3">2</text>
<text x="62.3" y="629.6">4</text>
<text x="62.3" y="453">6</text>
<text x="62.3" y="276.4">8</text>
<text x="62.3" y="99.7">10</text>
</g>
<text x="497.2" y="986.6" font-size="41.7">pCO<tspan dy="9.3">2</tspan><tspan dy="-9.3"> (ppmv)</tspan></text>
<text font-size="41.5" stroke="#000" stroke-width="0.5" transform="translate(31.3 484) rotate(-90)">ΩCa</text>
</svg>
</body></html>
